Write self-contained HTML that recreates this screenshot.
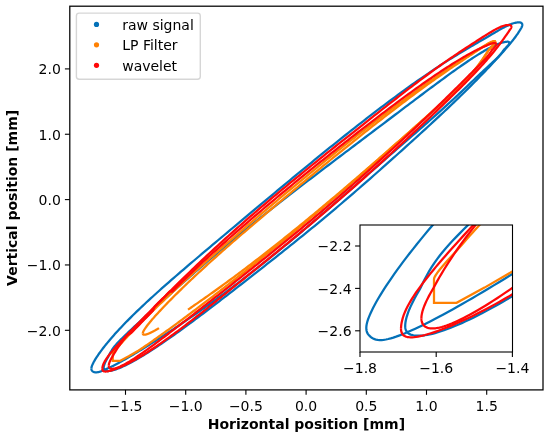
<!DOCTYPE html>
<html lang="en">
<head>
<meta charset="utf-8">
<title>Position plot</title>
<style>html,body{margin:0;padding:0;background:#fff}svg{display:block}</style>
</head>
<body>
<svg width="550" height="437" viewBox="0 0 550 437" role="img" aria-label="Vertical versus horizontal position: raw signal, LP filter and wavelet">
<defs><clipPath id="cm"><rect x="69.80" y="6.20" width="473.20" height="383.70"/></clipPath><clipPath id="ci"><rect x="360.00" y="225.00" width="152.50" height="127.00"/></clipPath></defs>
<rect width="550" height="437" fill="#fff"/>
<g clip-path="url(#cm)" fill="none" stroke-linejoin="round" stroke-linecap="butt">
<path d="M91.37 368.65L91.39 368.19L91.46 367.69L91.57 367.16L91.73 366.59L91.92 365.99L92.17 365.35L92.46 364.67L92.79 363.93L93.16 363.15L93.58 362.33L94.05 361.48L94.56 360.58L95.11 359.64L95.70 358.66L96.34 357.65L97.02 356.60L97.75 355.52L98.51 354.40L99.32 353.24L100.18 352.05L101.07 350.83L102.01 349.57L102.99 348.28L104.01 346.97L105.08 345.62L106.18 344.24L107.33 342.84L108.52 341.41L109.75 339.95L111.02 338.46L112.33 336.95L113.68 335.42L115.07 333.86L116.49 332.28L117.96 330.68L119.47 329.05L121.02 327.41L122.60 325.74L124.22 324.05L125.88 322.34L127.58 320.61L129.31 318.86L131.08 317.09L132.89 315.31L134.73 313.50L136.60 311.68L138.52 309.83L140.46 307.98L142.44 306.10L144.46 304.20L146.51 302.29L148.59 300.37L150.70 298.42L152.85 296.46L155.03 294.49L157.24 292.49L159.48 290.49L161.75 288.46L164.05 286.42L166.37 284.37L168.73 282.30L171.12 280.21L173.53 278.11L175.98 275.99L178.44 273.86L180.94 271.71L183.46 269.55L186.01 267.37L188.58 265.17L191.18 262.96L193.79 260.74L196.44 258.50L199.10 256.24L201.79 253.97L204.50 251.68L207.23 249.38L209.98 247.06L212.75 244.73L215.54 242.38L218.35 240.01L221.18 237.64L224.02 235.24L226.89 232.84L229.76 230.42L232.66 227.99L235.57 225.55L238.49 223.10L241.43 220.63L244.38 218.16L247.35 215.68L250.32 213.19L253.31 210.69L256.31 208.18L259.32 205.67L262.34 203.15L265.37 200.62L268.41 198.09L271.45 195.55L274.50 193.02L277.56 190.47L280.63 187.93L283.70 185.38L286.77 182.84L289.85 180.29L292.94 177.74L296.02 175.20L299.11 172.66L302.20 170.11L305.29 167.58L308.38 165.04L311.47 162.52L314.56 159.99L317.65 157.48L320.73 154.97L323.82 152.47L326.90 149.98L329.97 147.49L333.04 145.02L336.11 142.56L339.17 140.11L342.22 137.67L345.26 135.25L348.30 132.84L351.33 130.45L354.35 128.07L357.36 125.70L360.36 123.36L363.35 121.03L366.32 118.72L369.29 116.43L372.24 114.16L375.18 111.91L378.10 109.68L381.01 107.47L383.91 105.29L386.79 103.12L389.65 100.98L392.49 98.87L395.32 96.78L398.13 94.71L400.92 92.67L403.69 90.66L406.44 88.67L409.17 86.72L411.88 84.78L414.57 82.88L417.23 81.01L419.88 79.16L422.50 77.35L425.09 75.56L427.66 73.81L430.21 72.08L432.73 70.39L435.23 68.72L437.70 67.09L440.14 65.49L442.55 63.93L444.94 62.39L447.30 60.89L449.63 59.42L451.93 57.99L454.20 56.58L456.44 55.21L458.64 53.87L460.82 52.55L462.97 51.26L465.08 50.00L467.16 48.77L469.21 47.56L471.23 46.37L473.21 45.21L475.15 44.07L477.07 42.95L478.94 41.85L480.79 40.78L482.59 39.72L484.36 38.69L486.09 37.67L487.79 36.68L489.45 35.71L491.07 34.75L492.66 33.82L494.20 32.91L495.71 32.03L497.18 31.18L498.60 30.35L499.99 29.56L501.34 28.81L502.65 28.09L503.92 27.41L505.15 26.78L506.34 26.18L507.49 25.63L508.59 25.12L509.66 24.65L510.68 24.23L511.66 23.85L512.60 23.52L513.49 23.24L514.35 23.00L515.16 22.80L515.92 22.65L516.65 22.54L517.33 22.48L517.97 22.44L518.56 22.39L519.12 22.38L519.62 22.40L520.09 22.46L520.51 22.55L520.88 22.68L521.21 22.84L521.50 23.05L521.75 23.28L521.95 23.55L522.10 23.86L522.21 24.21L522.28 24.59L522.30 25.00" stroke="#0471B8" stroke-width="2.25"/>
<path d="M522.30 25.00L522.28 25.32L522.21 25.68L522.11 26.07L521.96 26.50L521.76 26.96L521.53 27.46L521.25 27.99L520.92 28.56L520.56 29.16L520.15 29.80L519.70 30.53L519.21 31.34L518.67 32.19L518.09 33.08L517.47 34.01L516.81 34.96L516.11 35.95L515.36 36.98L514.57 38.03L513.74 39.11L512.87 40.23L511.96 41.37L511.01 42.54L510.02 43.75L508.98 44.98L507.91 46.24L506.79 47.54L505.64 48.87L504.45 50.23L503.21 51.63L501.94 53.06L500.63 54.52L499.28 56.02L497.89 57.55L496.47 59.11L495.00 60.70L493.50 62.32L491.96 63.97L490.39 65.65L488.78 67.36L487.13 69.10L485.44 70.87L483.72 72.66L481.97 74.48L480.18 76.33L478.36 78.20L476.50 80.10L474.61 82.02L472.68 83.96L470.73 85.92L468.74 87.91L466.71 89.91L464.66 91.94L462.58 93.99L460.46 96.05L458.31 98.13L456.14 100.23L453.93 102.35L451.70 104.49L449.44 106.64L447.15 108.81L444.83 111.00L442.48 113.20L440.11 115.42L437.71 117.66L435.29 119.91L432.84 122.18L430.36 124.47L427.86 126.76L425.34 129.08L422.80 131.41L420.23 133.75L417.64 136.11L415.03 138.48L412.40 140.87L409.75 143.27L407.07 145.68L404.38 148.11L401.67 150.55L398.94 153.01L396.19 155.47L393.43 157.95L390.65 160.44L387.85 162.93L385.04 165.43L382.22 167.95L379.38 170.47L376.52 172.99L373.65 175.52L370.77 178.06L367.88 180.59L364.98 183.14L362.07 185.68L359.14 188.23L356.21 190.77L353.27 193.32L350.31 195.86L347.36 198.40L344.39 200.94L341.42 203.48L338.44 206.01L335.46 208.54L332.47 211.06L329.48 213.57L326.48 216.08L323.49 218.57L320.49 221.06L317.49 223.54L314.48 226.01L311.48 228.48L308.48 230.93L305.48 233.37L302.48 235.81L299.48 238.24L296.48 240.65L293.49 243.06L290.50 245.45L287.52 247.84L284.54 250.21L281.57 252.58L278.61 254.93L275.65 257.28L272.70 259.61L269.76 261.93L266.82 264.24L263.90 266.54L260.98 268.83L258.08 271.10L255.19 273.37L252.31 275.62L249.44 277.86L246.59 280.09L243.75 282.30L240.92 284.50L238.11 286.69L235.31 288.86L232.53 291.02L229.77 293.16L227.02 295.28L224.29 297.39L221.58 299.48L218.89 301.55L216.22 303.60L213.57 305.63L210.93 307.63L208.32 309.62L205.73 311.58L203.17 313.52L200.62 315.44L198.10 317.33L195.60 319.20L193.13 321.04L190.68 322.85L188.25 324.64L185.85 326.40L183.48 328.13L181.14 329.83L178.82 331.50L176.53 333.15L174.26 334.76L172.03 336.34L169.83 337.89L167.65 339.41L165.50 340.90L163.39 342.35L161.30 343.77L159.25 345.16L157.23 346.51L155.24 347.83L153.28 349.11L151.36 350.36L149.46 351.57L147.61 352.75L145.78 353.89L143.99 355.00L142.24 356.07L140.52 357.10L138.84 358.09L137.19 359.05L135.58 359.97L134.00 360.86L132.46 361.71L130.96 362.52L129.50 363.29L128.07 364.03L126.68 364.72L125.33 365.39L124.02 366.01L122.75 366.59L121.52 367.14L120.32 367.66L119.17 368.13L118.05 368.57L116.98 368.97L115.95 369.33L114.95 369.66L114.00 369.95L113.09 370.21L112.22 370.43L111.39 370.62L110.60 370.77L109.86 370.89L109.15 370.97L108.49 371.02L107.87 371.03L107.29 371.02L106.76 370.97L106.26 370.88L105.81 370.80L105.41 370.68L105.04 370.53L104.72 370.34L104.44 370.12L104.20 369.86L104.01 369.56L103.86 369.23L103.75 368.87L103.69 368.47L103.66 368.03" stroke="#0471B8" stroke-width="2.25"/>
<path d="M103.66 368.03L103.68 367.50L103.75 366.93L103.85 366.34L104.00 365.70L104.19 365.04L104.41 364.34L104.69 363.61L105.00 362.85L105.35 362.06L105.75 361.23L106.18 360.37L106.66 359.48L107.18 358.56L107.74 357.60L108.34 356.62L108.98 355.34L109.67 353.96L110.39 352.60L111.15 351.27L111.96 349.98L112.80 348.72L113.68 347.49L114.61 346.29L115.57 345.12L116.57 343.98L117.61 342.84L118.69 341.71L119.81 340.56L120.97 339.40L122.16 338.21L123.39 337.00L124.67 335.77L125.97 334.51L127.32 333.23L128.70 331.92L130.12 330.58L131.57 329.22L133.07 327.83L134.59 326.42L136.15 324.98L137.75 323.51L139.38 322.01L141.05 320.48L142.75 318.93L144.48 317.35L146.25 315.74L148.05 314.11L149.89 312.45L151.75 310.76L153.65 309.04L155.58 307.30L157.54 305.53L159.53 303.74L161.55 301.92L163.60 300.07L165.68 298.20L167.79 296.31L169.92 294.40L172.09 292.46L174.28 290.50L176.50 288.52L178.75 286.51L181.02 284.49L183.32 282.45L185.65 280.39L188.00 278.31L190.37 276.22L192.77 274.11L195.19 271.99L197.63 269.85L200.10 267.70L202.59 265.54L205.10 263.37L207.63 261.19L210.18 259.00L212.75 256.80L215.34 254.60L217.95 252.39L220.58 250.18L223.22 247.96L225.88 245.74L228.56 243.51L231.26 241.28L233.97 239.05L236.69 236.81L239.43 234.57L242.18 232.33L244.95 230.09L247.73 227.84L250.52 225.60L253.32 223.35L256.14 221.10L258.96 218.85L261.79 216.60L264.64 214.35L267.49 212.10L270.35 209.85L273.22 207.60L276.09 205.35L278.97 203.10L281.86 200.85L284.75 198.60L287.64 196.36L290.54 194.12L293.45 191.88L296.35 189.64L299.26 187.40L302.17 185.17L305.08 182.94L307.99 180.72L310.90 178.50L313.81 176.28L316.71 174.06L319.62 171.85L322.52 169.65L325.42 167.44L328.32 165.25L331.21 163.06L334.09 160.87L336.97 158.69L339.85 156.52L342.71 154.35L345.57 152.19L348.43 150.04L351.27 147.89L354.10 145.75L356.93 143.62L359.74 141.49L362.54 139.37L365.33 137.27L368.11 135.17L370.88 133.08L373.63 131.00L376.37 128.92L379.10 126.86L381.81 124.81L384.50 122.78L387.18 120.75L389.84 118.74L392.49 116.74L395.11 114.75L397.72 112.78L400.31 110.82L402.88 108.88L405.44 106.95L407.97 105.05L410.48 103.16L412.96 101.28L415.43 99.43L417.87 97.59L420.30 95.77L422.69 93.98L425.07 92.20L427.42 90.45L429.74 88.72L432.04 87.01L434.31 85.32L436.56 83.65L438.78 82.01L440.97 80.40L443.14 78.81L445.28 77.24L447.39 75.71L449.47 74.20L451.52 72.71L453.54 71.26L455.53 69.84L457.49 68.45L459.42 67.09L461.31 65.76L463.18 64.46L465.01 63.20L466.81 61.97L468.58 60.78L470.31 59.62L472.01 58.50L473.68 57.41L475.31 56.36L476.91 55.35L478.47 54.38L480.00 53.44L481.49 52.53L482.94 51.67L484.36 50.84L485.74 50.06L487.09 49.31L488.40 48.59L489.67 47.92L490.90 47.28L492.10 46.68L493.25 46.12L494.37 45.59L495.45 45.10L496.49 44.65L497.50 44.23L498.46 43.85L499.38 43.51L500.26 43.20L501.11 42.92L501.91 42.67L502.67 42.46L503.40 42.28L504.08 42.14L504.72 42.02L505.32 41.93L505.88 41.87L506.40 41.81L506.88 41.74L507.32 41.70L507.71 41.70L508.07 41.73L508.38 41.80L508.65 41.90L508.88 42.03L509.07 42.20L509.21 42.40L509.32 42.63L509.38 42.90L509.40 43.20" stroke="#0471B8" stroke-width="2.25"/>
<path d="M509.40 43.20L509.38 43.36L509.31 43.56L509.21 43.79L509.06 44.05L508.86 44.35L508.63 44.68L508.35 45.04L508.03 45.44L507.66 45.87L507.25 46.33L506.80 46.82L506.31 47.35L505.78 47.91L505.20 48.50L504.58 49.13L503.92 49.78L503.22 50.76L502.47 51.86L501.68 52.95L500.86 54.02L499.99 55.07L499.08 56.11L498.13 57.12L497.13 58.13L496.10 59.13L495.03 60.13L493.92 61.15L492.76 62.20L491.57 63.28L490.34 64.41L489.07 65.58L487.76 66.78L486.41 68.03L485.03 69.32L483.60 70.65L482.14 72.02L480.64 73.43L479.11 74.88L477.53 76.36L475.92 77.89L474.28 79.45L472.60 81.05L470.88 82.68L469.13 84.35L467.34 86.04L465.52 87.77L463.67 89.53L461.78 91.32L459.86 93.13L457.90 94.97L455.91 96.82L453.89 98.70L451.84 100.60L449.76 102.52L447.65 104.45L445.51 106.40L443.33 108.36L441.13 110.35L438.90 112.35L436.64 114.36L434.35 116.40L432.04 118.45L429.70 120.51L427.33 122.60L424.93 124.70L422.51 126.82L420.07 128.95L417.60 131.11L415.10 133.28L412.58 135.47L410.04 137.67L407.48 139.90L404.89 142.14L402.29 144.40L399.66 146.69L397.01 148.99L394.34 151.31L391.65 153.65L388.95 156.01L386.22 158.39L383.48 160.79L380.72 163.20L377.94 165.63L375.15 168.08L372.34 170.53L369.52 173.01L366.68 175.49L363.83 177.99L360.97 180.50L358.09 183.02L355.21 185.55L352.31 188.08L349.40 190.62L346.48 193.17L343.55 195.73L340.61 198.29L337.66 200.85L334.71 203.42L331.75 205.98L328.78 208.55L325.81 211.12L322.83 213.68L319.85 216.25L316.86 218.81L313.87 221.36L310.88 223.91L307.88 226.46L304.88 228.99L301.88 231.52L298.89 234.04L295.89 236.56L292.89 239.06L289.90 241.55L286.90 244.03L283.91 246.50L280.92 248.95L277.94 251.40L274.96 253.83L271.99 256.24L269.02 258.64L266.06 261.02L263.11 263.39L260.16 265.73L257.22 268.07L254.29 270.38L251.37 272.67L248.46 274.94L245.56 277.19L242.68 279.43L239.80 281.63L236.94 283.82L234.09 285.99L231.25 288.13L228.43 290.25L225.62 292.34L222.83 294.41L220.05 296.46L217.29 298.48L214.55 300.48L211.83 302.45L209.12 304.40L206.43 306.33L203.76 308.23L201.11 310.10L198.49 311.96L195.88 313.78L193.29 315.59L190.73 317.36L188.19 319.11L185.67 320.84L183.17 322.54L180.70 324.22L178.26 325.87L175.84 327.49L173.44 329.09L171.07 330.67L168.73 332.22L166.42 333.74L164.13 335.24L161.87 336.70L159.64 338.15L157.44 339.57L155.26 340.96L153.12 342.32L151.01 343.66L148.93 344.97L146.88 346.25L144.86 347.51L142.87 348.73L140.92 349.94L138.99 351.11L137.10 352.25L135.25 353.37L133.43 354.46L131.64 355.52L129.89 356.55L128.17 357.55L126.49 358.52L124.85 359.46L123.24 360.37L121.66 361.25L120.13 362.10L118.63 362.92L117.17 363.71L115.74 364.47L114.36 365.20L113.01 365.89L111.70 366.55L110.43 367.18L109.20 367.78L108.01 368.34L106.85 368.87L105.74 369.37L104.67 369.83L103.64 370.25L102.64 370.64L101.69 371.00L100.78 371.32L99.91 371.60L99.09 371.84L98.30 372.04L97.56 372.19L96.85 372.30L96.19 372.36L95.57 372.36L94.99 372.31L94.46 372.22L93.97 372.07L93.52 371.88L93.11 371.65L92.75 371.38L92.42 371.08L92.14 370.80L91.91 370.53L91.71 370.22L91.56 369.88L91.46 369.50L91.39 369.09L91.37 368.65" stroke="#0471B8" stroke-width="2.25"/>
<path d="M495.30 41.90L495.29 42.03L495.25 42.19L495.18 42.37L495.09 42.57L494.97 42.79L494.82 43.04L494.65 43.30L494.45 43.59L494.22 43.90L493.97 44.24L493.69 44.59L493.38 44.97L493.05 45.36L492.69 45.78L492.31 46.22L491.90 46.69L491.46 47.17L491.00 47.68L490.51 48.20L489.99 48.75L489.45 49.32L488.88 49.91L488.29 50.82L487.67 51.81L487.03 52.84L486.36 53.90L485.66 54.98L484.94 56.09L484.19 57.22L483.42 58.37L482.63 59.54L481.81 60.73L480.96 61.94L480.09 63.15L479.20 64.38L478.28 65.62L477.33 66.86L476.36 68.11L475.37 69.36L474.36 70.63L473.32 71.89L472.25 73.16L471.16 74.43L470.05 75.71L468.92 76.98L467.76 78.26L466.58 79.54L465.38 80.83L464.16 82.11L462.91 83.40L461.64 84.69L460.35 85.98L459.04 87.28L457.70 88.58L456.34 89.88L454.97 91.19L453.57 92.51L452.15 93.83L450.71 95.16L449.24 96.50L447.76 97.85L446.26 99.21L444.74 100.59L443.20 101.97L441.64 103.38L440.06 104.80L438.46 106.23L436.84 107.68L435.20 109.14L433.55 110.62L431.87 112.11L430.18 113.62L428.47 115.15L426.75 116.68L425.00 118.24L423.24 119.80L421.46 121.38L419.67 122.97L417.86 124.58L416.03 126.20L414.19 127.84L412.33 129.48L410.46 131.14L408.57 132.81L406.66 134.50L404.75 136.19L402.82 137.90L400.87 139.62L398.91 141.35L396.94 143.09L394.95 144.85L392.95 146.61L390.94 148.38L388.91 150.16L386.88 151.96L384.83 153.76L382.77 155.57L380.70 157.39L378.62 159.22L376.53 161.05L374.42 162.90L372.31 164.75L370.19 166.60L368.05 168.47L365.91 170.34L363.76 172.22L361.60 174.10L359.44 175.99L357.26 177.88L355.08 179.78L352.89 181.68L350.69 183.59L348.48 185.50L346.27 187.41L344.06 189.32L341.83 191.24L339.60 193.16L337.37 195.08L335.13 197.00L332.89 198.93L330.64 200.85L328.39 202.78L326.13 204.70L323.87 206.62L321.61 208.55L319.34 210.47L317.07 212.39L314.80 214.30L312.53 216.22L310.25 218.13L307.98 220.04L305.70 221.94L303.43 223.84L301.15 225.74L298.87 227.64L296.59 229.53L294.32 231.41L292.04 233.29L289.77 235.17L287.49 237.04L285.22 238.90L282.95 240.76L280.69 242.62L278.42 244.47L276.16 246.31L273.90 248.14L271.65 249.97L269.40 251.79L267.15 253.61L264.91 255.41L262.68 257.21L260.45 259.01L258.22 260.79L256.00 262.57L253.79 264.33L251.58 266.09L249.38 267.84L247.19 269.58L245.00 271.31L242.83 273.04L240.66 274.75L238.49 276.45L236.34 278.14L234.20 279.83L232.06 281.50L229.93 283.16L227.82 284.81L225.71 286.45L223.62 288.08L221.53 289.69L219.46 291.30L217.39 292.89L215.34 294.47L213.30 296.04L211.27 297.60L209.26 299.14L207.25 300.68L205.26 302.19L203.28 303.70L201.32 305.19L199.37 306.67L197.43 308.13L195.51 309.58L193.60 311.02L191.71 312.44L189.83 313.85L187.97 315.24L186.12 316.62L184.29 317.99L182.47 319.33L180.67 320.67L178.89 321.98L177.12 323.29L175.37 324.57L173.64 325.84L171.92 327.10L170.23 328.33L168.55 329.55L166.88 330.76L165.24 331.95L163.62 333.12L162.01 334.27L160.42 335.41L158.86 336.52L157.31 337.62L155.78 338.71L154.27 339.77L152.78 340.82L151.32 341.85L149.87 342.86L148.44 343.85L147.03 344.82L145.65 345.77L144.29 346.71L142.94 347.62L141.62 348.52L140.32 349.39L139.05 350.25L137.79 351.09L128.72 356.19L119.91 360.88L112.76 360.88L112.76 353.60L112.76 353.60L112.78 353.43L112.84 353.23L112.94 353.00L113.08 352.73L113.26 352.43L113.47 352.10L113.73 351.74L114.02 351.34L114.36 350.92L114.73 350.46L115.14 349.97L115.59 349.45L116.08 348.90L116.61 348.32L117.18 347.71L117.78 347.06L118.42 346.39L119.11 345.68L119.83 344.94L120.58 344.09L121.38 343.20L122.21 342.28L123.08 341.32L123.99 340.32L124.93 339.29L125.91 338.23L126.93 337.14L127.99 336.01L129.08 334.86L130.21 333.67L131.37 332.45L132.57 331.19L133.80 329.91L135.07 328.60L136.37 327.27L137.71 325.90L139.08 324.50L140.49 323.08L141.93 321.63L143.40 320.16L144.90 318.65L146.44 317.13L148.01 315.58L149.62 314.00L151.25 312.40L152.92 310.78L154.62 309.13L156.34 307.46L158.10 305.77L159.89 304.06L161.71 302.32L163.56 300.57L165.43 298.79L167.34 296.99L169.27 295.18L171.23 293.34L173.22 291.49L175.24 289.62L177.28 287.73L179.35 285.83L181.44 283.90L183.56 281.96L185.70 280.01L187.87 278.03L190.06 276.05L192.28 274.04L194.51 272.03L196.77 270.00L199.06 267.95L201.36 265.89L203.69 263.82L206.03 261.74L208.40 259.64L210.78 257.53L213.19 255.41L215.61 253.28L218.06 251.14L220.52 248.98L222.99 246.82L225.49 244.65L228.00 242.47L230.52 240.27L233.06 238.07L235.62 235.87L238.19 233.65L240.77 231.42L243.36 229.19L245.97 226.95L248.59 224.71L251.22 222.46L253.87 220.20L256.52 217.94L259.18 215.67L261.85 213.40L264.53 211.13L267.22 208.86L269.92 206.58L272.62 204.30L275.33 202.02L278.05 199.74L280.77 197.46L283.49 195.18L286.22 192.90L288.96 190.62L291.69 188.34L294.43 186.07L297.17 183.80L299.92 181.53L302.66 179.27L305.40 177.01L308.15 174.76L310.89 172.52L313.63 170.28L316.37 168.04L319.11 165.82L321.84 163.60L324.57 161.39L327.30 159.19L330.02 157.00L332.73 154.82L335.44 152.65L338.15 150.49L340.84 148.34L343.53 146.20L346.21 144.08L348.88 141.97L351.55 139.87L354.20 137.78L356.84 135.71L359.47 133.66L362.09 131.62L364.70 129.59L367.30 127.58L369.88 125.59L372.45 123.61L375.00 121.65L377.54 119.71L380.07 117.79L382.58 115.89L385.07 114.00L387.55 112.13L390.01 110.29L392.45 108.46L394.88 106.65L397.28 104.87L399.67 103.10L402.03 101.36L404.38 99.64L406.70 97.94L409.01 96.26L411.29 94.60L413.55 92.97L415.79 91.36L418.00 89.78L420.20 88.22L422.36 86.68L424.51 85.17L426.63 83.68L428.72 82.21L430.79 80.78L432.83 79.36L434.84 77.98L436.83 76.61L438.79 75.28L440.73 73.97L442.63 72.68L444.51 71.43L446.36 70.19L448.17 68.99L449.96 67.81L451.72 66.65L453.45 65.52L455.15 64.42L456.81 63.33L458.45 62.27L460.05 61.24L461.62 60.23L463.16 59.24L464.67 58.27L466.14 57.33L467.58 56.40L468.98 55.51L470.36 54.63L471.69 53.78L473.00 52.95L474.27 52.14L475.50 51.35L476.70 50.59L477.86 49.86L478.99 49.14L480.08 48.45L481.13 47.79L482.15 47.15L483.13 46.54L484.08 45.95L484.98 45.39L485.85 44.86L486.69 44.35L487.48 43.87L488.24 43.43L488.96 43.06L489.64 42.72L490.28 42.42L490.89 42.14L491.46 41.90L491.98 41.69L492.47 41.52L492.92 41.37L493.34 41.26L493.71 41.18L494.04 41.13L494.34 41.11L494.59 41.13L494.81 41.18L494.99 41.26L495.12 41.37L495.22 41.51L495.28 41.69L495.30 41.90" stroke="#FF8103" stroke-width="2.25" stroke-linejoin="miter"/>
<path d="M495.30 41.90L495.29 42.00L495.26 42.13L495.21 42.26L495.14 42.42L495.06 42.59L494.95 42.77L494.82 42.97L494.67 43.19L494.51 43.43L494.32 43.68L494.12 43.95L493.89 44.23L493.65 44.53L493.38 44.84L493.10 45.18L492.80 45.52L492.48 45.89L492.14 46.27L491.78 46.66L491.40 47.08L491.00 47.50L490.58 47.95L490.14 48.40L489.69 48.88L489.21 49.37L488.72 49.88L488.21 50.60L487.68 51.41L487.12 52.25L486.56 53.11L485.97 54.01L485.36 54.92L484.74 55.86L484.09 56.82L483.43 57.81L482.75 58.80L482.05 59.82L481.33 60.85L480.60 61.89L479.85 62.94L479.08 63.99L478.29 65.06L477.48 66.12L476.65 67.20L475.81 68.28L474.95 69.36L474.07 70.45L473.18 71.54L472.27 72.63L471.34 73.73L470.39 74.83L469.43 75.92L468.45 77.03L467.45 78.13L466.44 79.23L465.40 80.34L464.36 81.44L463.29 82.55L462.21 83.66L461.12 84.78L460.00 85.89L458.88 87.01L457.73 88.13L456.57 89.25L455.39 90.38L454.20 91.51L453.00 92.65L451.77 93.79L450.54 94.94L449.28 96.09L448.02 97.26L446.74 98.43L445.44 99.61L444.13 100.79L442.80 101.99L441.46 103.21L440.11 104.43L438.74 105.66L437.36 106.90L435.96 108.16L434.56 109.42L433.13 110.70L431.70 111.99L430.25 113.28L428.79 114.59L427.31 115.91L425.83 117.24L424.33 118.57L422.81 119.92L421.29 121.28L419.75 122.64L418.21 124.02L416.65 125.40L415.07 126.80L413.49 128.20L411.90 129.61L410.29 131.04L408.68 132.47L407.05 133.90L405.41 135.35L403.76 136.81L402.10 138.27L400.44 139.74L398.76 141.22L397.07 142.70L395.37 144.19L393.66 145.69L391.95 147.20L390.22 148.71L388.49 150.23L386.74 151.76L384.99 153.29L383.23 154.83L381.46 156.38L379.69 157.93L377.90 159.48L376.11 161.04L374.31 162.61L372.50 164.18L370.69 165.75L368.87 167.33L367.04 168.91L365.21 170.50L363.37 172.09L361.52 173.68L359.67 175.28L357.81 176.88L355.95 178.48L354.08 180.09L352.20 181.70L350.32 183.31L348.44 184.92L346.55 186.53L344.66 188.15L342.76 189.77L340.86 191.38L338.95 193.00L337.04 194.62L335.13 196.24L333.21 197.86L331.29 199.48L329.37 201.10L327.45 202.71L325.52 204.33L323.59 205.95L321.66 207.56L319.72 209.17L317.79 210.79L315.85 212.39L313.91 214.00L311.97 215.61L310.03 217.21L308.09 218.81L306.15 220.40L304.20 222.00L302.26 223.59L300.32 225.17L298.38 226.76L296.44 228.33L294.49 229.91L292.55 231.48L290.61 233.04L288.68 234.60L286.74 236.16L284.80 237.71L282.87 239.26L280.94 240.79L279.01 242.33L277.08 243.86L275.16 245.38L273.24 246.90L271.32 248.41L269.40 249.91L267.49 251.41L265.58 252.90L263.68 254.38L261.78 255.85L259.88 257.32L257.99 258.78L256.10 260.24L254.22 261.68L252.34 263.12L250.47 264.55L248.60 265.97L246.74 267.39L244.88 268.79L243.03 270.19L241.19 271.57L239.35 272.95L237.52 274.32L235.69 275.68L233.87 277.03L232.06 278.37L230.26 279.71L228.46 281.03L226.67 282.34L224.89 283.64L223.12 284.94L221.35 286.22L219.59 287.49L217.84 288.75L216.10 290.01L214.37 291.25L212.65 292.48L210.94 293.70L209.23 294.91L207.54 296.11L205.85 297.29L204.18 298.47L202.51 299.64L200.86 300.79L199.21 301.94L197.58 303.07L195.95 304.19L194.34 305.30L192.74 306.40L191.15 307.49L189.57 308.56L188.00 309.63" stroke="#FF8103" stroke-width="2.25" stroke-linejoin="miter"/>
<path d="M495.30 41.90L495.28 41.71L495.23 41.55L495.14 41.42L495.01 41.32L494.85 41.25L494.65 41.21L494.41 41.20L494.14 41.22L493.83 41.27L493.49 41.35L493.11 41.46L492.70 41.60L492.24 41.77L491.76 41.97L491.24 42.20L490.68 42.46L490.08 42.75L489.46 43.07L488.79 43.42L488.10 43.81L487.36 44.26L486.60 44.74L485.79 45.24L484.96 45.78L484.09 46.33L483.18 46.91L482.24 47.52L481.27 48.15L480.27 48.80L479.23 49.48L478.16 50.17L477.05 50.89L475.92 51.64L474.75 52.40L473.55 53.18L472.32 53.99L471.05 54.82L469.76 55.67L468.43 56.54L467.07 57.43L465.68 58.34L464.27 59.28L462.82 60.23L461.34 61.21L459.83 62.21L458.30 63.23L456.74 64.27L455.14 65.34L453.52 66.43L451.87 67.54L450.20 68.68L448.50 69.84L446.77 71.02L445.01 72.23L443.23 73.47L441.42 74.73L439.59 76.01L437.73 77.31L435.85 78.64L433.95 80.00L432.02 81.37L430.07 82.77L428.09 84.20L426.09 85.64L424.07 87.11L422.03 88.60L419.97 90.11L417.89 91.64L415.78 93.19L413.66 94.77L411.52 96.36L409.36 97.97L407.17 99.61L404.98 101.26L402.76 102.93L400.53 104.62L398.28 106.33L396.01 108.06L393.73 109.81L391.43 111.57L389.12 113.35L386.79 115.14L384.45 116.95L382.09 118.78L379.73 120.62L377.35 122.48L374.95 124.35L372.55 126.24L370.14 128.14L367.71 130.05L365.28 131.97L362.83 133.91L360.38 135.86L357.92 137.82L355.45 139.79L352.97 141.77L350.49 143.76L347.99 145.76L345.50 147.77L342.99 149.79L340.49 151.82L337.98 153.85L335.46 155.89L332.94 157.94L330.42 160.00L327.90 162.06L325.37 164.12L322.84 166.19L320.31 168.26L317.79 170.34L315.26 172.42L312.73 174.51L310.20 176.59L307.68 178.68L305.16 180.77L302.64 182.86L300.12 184.95L297.61 187.04L295.11 189.13L292.60 191.22L290.11 193.30L287.61 195.39L285.13 197.47L282.65 199.55L280.18 201.63L277.72 203.70L275.27 205.76L272.82 207.83L270.39 209.88L267.96 211.93L265.55 213.98L263.15 216.02L260.75 218.05L258.37 220.07L256.01 222.08L253.65 224.09L251.31 226.09L248.98 228.08L246.67 230.06L244.37 232.04L242.09 234.00L239.82 235.96L237.57 237.90L235.34 239.84L233.12 241.77L230.92 243.68L228.74 245.59L226.58 247.49L224.44 249.37L222.32 251.24L220.21 253.11L218.13 254.96L216.07 256.80L214.03 258.63L212.01 260.44L210.01 262.24L208.03 264.03L206.08 265.81L204.15 267.57L202.25 269.32L200.37 271.06L198.51 272.78L196.68 274.48L194.87 276.17L193.09 277.85L191.33 279.51L189.60 281.15L187.90 282.77L186.23 284.37L184.58 285.96L182.96 287.53L181.36 289.08L179.80 290.61L178.27 292.11L176.76 293.60L175.28 295.07L173.83 296.51L172.42 297.94L171.03 299.34L169.67 300.71L168.34 302.07L167.05 303.40L165.78 304.70L164.55 305.99L163.35 307.24L162.18 308.48L161.05 309.68L159.94 310.86L158.87 312.02L157.83 313.15L156.83 314.25L155.86 315.32L154.92 316.37L154.01 317.39L153.14 318.38L152.31 319.35L151.50 320.28L150.74 321.19L150.00 322.07L149.31 322.92L148.64 323.74L148.02 324.53L147.42 325.29L146.86 326.03L146.34 326.73L145.86 327.40L145.40 328.04L144.99 328.65L144.61 329.23L144.27 329.78L143.96 330.30L143.69 330.79L143.45 331.25L143.25 331.68L143.09 332.09L142.96 332.46L142.87 332.80L142.82 333.12L142.80 333.40" stroke="#FF8103" stroke-width="2.25" stroke-linejoin="miter"/>
<path d="M142.80 333.40L142.80 333.44L142.80 333.48L142.80 333.51L142.81 333.55L142.81 333.59L142.81 333.62L142.82 333.66L142.82 333.69L142.83 333.73L142.83 333.76L142.84 333.79L142.85 333.83L142.86 333.86L142.87 333.89L142.88 333.92L142.89 333.95L142.90 333.98L142.91 334.01L142.92 334.04L142.94 334.07L142.95 334.09L142.97 334.12L142.98 334.15L143.00 334.17L143.01 334.20L143.03 334.22L143.05 334.25L143.07 334.27L143.09 334.29L143.11 334.32L143.13 334.34L143.15 334.36L143.17 334.38L143.20 334.40L143.22 334.42L143.24 334.44L143.27 334.45L143.30 334.47L143.32 334.49L143.35 334.51L143.38 334.52L143.40 334.54L143.43 334.55L143.46 334.57L143.49 334.58L143.53 334.59L143.56 334.61L143.59 334.62L143.62 334.63L143.66 334.64L143.69 334.65L143.73 334.66L143.76 334.67L143.80 334.68L143.84 334.69L143.87 334.69L143.91 334.70L143.95 334.71L143.99 334.71L144.03 334.72L144.08 334.72L144.12 334.72L144.16 334.73L144.20 334.73L144.25 334.73L144.29 334.73L144.34 334.74L144.38 334.74L144.43 334.74L144.48 334.74L144.53 334.73L144.58 334.73L144.63 334.73L144.68 334.73L144.73 334.72L144.78 334.72L144.83 334.72L144.88 334.71L144.94 334.70L144.99 334.70L145.05 334.69L145.10 334.68L145.16 334.68L145.22 334.67L145.27 334.66L145.33 334.65L145.39 334.64L145.45 334.63L145.51 334.61L145.57 334.60L145.63 334.59L145.70 334.58L145.76 334.56L145.82 334.55L145.89 334.53L145.95 334.52L146.02 334.50L146.08 334.48L146.15 334.47L146.22 334.45L146.29 334.43L146.36 334.41L146.43 334.39L146.50 334.37L146.57 334.35L146.64 334.32L146.71 334.30L146.79 334.28L146.86 334.25L146.93 334.23L147.01 334.21L147.09 334.18L147.16 334.15L147.24 334.13L147.32 334.10L147.40 334.07L147.48 334.04L147.56 334.01L147.64 333.98L147.72 333.95L147.80 333.92L147.88 333.89L147.97 333.86L148.05 333.83L148.13 333.79L148.22 333.76L148.30 333.73L148.39 333.69L148.48 333.66L148.57 333.62L148.65 333.58L148.74 333.55L148.83 333.51L148.92 333.47L149.02 333.43L149.11 333.39L149.20 333.35L149.29 333.31L149.39 333.27L149.48 333.23L149.58 333.18L149.67 333.14L149.77 333.10L149.87 333.05L149.96 333.01L150.06 332.96L150.16 332.92L150.26 332.87L150.36 332.82L150.46 332.78L150.56 332.73L150.67 332.68L150.77 332.63L150.87 332.58L150.98 332.53L151.08 332.48L151.19 332.43L151.30 332.37L151.40 332.32L151.51 332.27L151.62 332.21L151.73 332.16L151.84 332.10L151.95 332.05L152.06 331.99L152.17 331.94L152.28 331.88L152.39 331.82L152.51 331.76L152.62 331.70L152.74 331.64L152.85 331.58L152.97 331.52L153.09 331.46L153.20 331.40L153.32 331.33L153.44 331.27L153.56 331.21L153.68 331.14L153.80 331.08L153.92 331.01L154.04 330.95L154.17 330.88L154.29 330.81L154.41 330.74L154.54 330.68L154.66 330.61L154.79 330.54L154.91 330.47L155.04 330.40L155.17 330.33L155.30 330.25L155.43 330.18L155.56 330.11L155.69 330.04L155.82 329.96L155.95 329.89L156.08 329.81L156.21 329.74L156.35 329.66L156.48 329.58L156.61 329.51L156.75 329.43L156.89 329.35L157.02 329.27L157.16 329.19L157.30 329.11L157.44 329.03L157.57 328.95L157.71 328.87L157.85 328.78L158.00 328.70L158.14 328.62L158.28 328.53L158.42 328.45L158.57 328.36L158.71 328.28L158.85 328.19L159.00 328.10" stroke="#FF8103" stroke-width="2.25" stroke-linejoin="miter"/>
<path d="M102.34 368.88L102.36 368.31L102.42 367.70L102.53 367.06L102.67 366.39L102.86 365.68L103.09 364.94L103.37 364.22L103.68 363.49L104.04 362.74L104.44 361.96L104.88 361.17L105.36 360.36L105.88 359.52L106.45 358.66L107.05 357.78L107.70 356.87L108.39 355.94L109.12 354.99L109.89 354.01L110.70 353.00L111.55 351.96L112.44 350.90L113.37 349.81L114.34 348.69L115.35 347.55L116.40 346.37L117.49 345.16L118.61 343.92L119.78 342.65L120.99 341.35L122.23 340.02L123.51 338.65L124.83 337.25L126.19 335.82L127.58 334.36L129.01 332.86L130.48 331.34L131.98 329.78L133.52 328.18L135.09 326.56L136.70 324.90L138.35 323.21L140.03 321.49L141.74 319.74L143.49 317.96L145.27 316.15L147.09 314.30L148.94 312.43L150.82 310.53L152.73 308.59L154.68 306.63L156.65 304.65L158.66 302.63L160.69 300.59L162.76 298.52L164.86 296.43L166.98 294.31L169.14 292.17L171.32 290.01L173.53 287.82L175.77 285.61L178.04 283.38L180.33 281.13L182.65 278.87L184.99 276.58L187.36 274.28L189.75 271.97L192.17 269.63L194.61 267.29L197.08 264.93L199.56 262.56L202.07 260.18L204.60 257.79L207.15 255.39L209.73 252.98L212.32 250.57L214.93 248.15L217.56 245.73L220.21 243.30L222.87 240.87L225.56 238.44L228.26 236.00L230.98 233.57L233.71 231.13L236.45 228.69L239.22 226.24L241.99 223.80L244.78 221.36L247.58 218.92L250.40 216.47L253.22 214.03L256.06 211.59L258.91 209.15L261.76 206.71L264.63 204.28L267.51 201.84L270.39 199.41L273.28 196.98L276.18 194.55L279.08 192.13L281.99 189.71L284.91 187.29L287.82 184.88L290.75 182.47L293.67 180.07L296.60 177.67L299.53 175.28L302.47 172.89L305.40 170.50L308.34 168.12L311.27 165.75L314.20 163.38L317.13 161.02L320.06 158.67L322.99 156.32L325.91 153.98L328.83 151.65L331.75 149.32L334.66 147.00L337.56 144.69L340.46 142.39L343.35 140.10L346.23 137.81L349.11 135.53L351.97 133.27L354.83 131.01L357.68 128.76L360.51 126.52L363.34 124.29L366.15 122.07L368.95 119.86L371.74 117.66L374.52 115.48L377.28 113.30L380.03 111.14L382.76 108.99L385.48 106.86L388.18 104.74L390.86 102.64L393.53 100.56L396.18 98.49L398.81 96.45L401.42 94.42L404.01 92.42L406.58 90.44L409.13 88.48L411.66 86.55L414.17 84.64L416.66 82.75L419.12 80.90L421.57 79.07L423.98 77.26L426.38 75.49L428.74 73.74L431.09 72.02L433.41 70.34L435.70 68.68L437.96 67.06L440.20 65.46L442.41 63.90L444.60 62.38L446.75 60.88L448.88 59.42L450.97 57.99L453.04 56.58L455.08 55.21L457.09 53.87L459.06 52.55L461.01 51.26L462.92 50.00L464.80 48.76L466.65 47.55L468.46 46.36L470.24 45.20L471.99 44.07L473.71 42.96L475.39 41.87L477.03 40.81L478.64 39.77L480.22 38.76L481.76 37.77L483.26 36.81L484.73 35.88L486.16 34.97L487.55 34.10L488.91 33.25L490.23 32.45L491.51 31.68L492.75 30.95L493.96 30.26L495.12 29.61L496.25 29.00L497.34 28.43L498.39 27.91L499.40 27.43L500.37 27.00L501.30 26.61L502.19 26.27L503.04 25.96L503.85 25.71L504.62 25.49L505.35 25.32L506.04 25.18L506.68 25.09L507.29 25.04L507.85 25.02L508.38 25.01L508.86 24.98L509.30 24.98L509.70 25.02L510.05 25.10L510.37 25.22L510.64 25.36L510.87 25.55L511.06 25.77L511.21 26.02L511.32 26.31L511.38 26.64L511.40 27.00" stroke="#FF0808" stroke-width="2.25"/>
<path d="M511.40 27.00L511.38 27.20L511.32 27.43L511.21 27.70L511.06 28.00L510.87 28.34L510.64 28.71L510.37 29.12L510.05 29.57L509.70 30.04L509.30 30.66L508.86 31.33L508.38 32.05L507.85 32.83L507.29 33.65L506.68 34.53L506.04 35.46L505.35 36.44L504.62 37.46L503.85 38.54L503.04 39.65L502.19 40.81L501.30 42.01L500.37 43.26L499.40 44.54L498.39 45.85L497.34 47.21L496.25 48.59L495.12 50.00L493.96 51.45L492.75 52.92L491.51 54.42L490.23 55.94L488.91 57.49L487.55 59.06L486.16 60.66L484.73 62.27L483.26 63.91L481.76 65.58L480.22 67.26L478.64 68.97L477.03 70.69L475.39 72.44L473.71 74.20L471.99 75.99L470.24 77.80L468.46 79.63L466.65 81.48L464.80 83.35L462.92 85.24L461.01 87.15L459.06 89.09L457.09 91.05L455.08 93.03L453.04 95.03L450.97 97.06L448.88 99.11L446.75 101.18L444.60 103.27L442.41 105.38L440.20 107.51L437.96 109.66L435.70 111.83L433.41 114.02L431.09 116.23L428.74 118.46L426.38 120.70L423.98 122.96L421.57 125.24L419.12 127.54L416.66 129.85L414.17 132.17L411.66 134.51L409.13 136.87L406.58 139.23L404.01 141.62L401.42 144.01L398.81 146.42L396.18 148.84L393.53 151.27L390.86 153.71L388.18 156.16L385.48 158.62L382.76 161.08L380.03 163.56L377.28 166.04L374.52 168.53L371.74 171.03L368.95 173.53L366.15 176.04L363.34 178.54L360.51 181.06L357.68 183.57L354.83 186.09L351.97 188.61L349.11 191.12L346.23 193.64L343.35 196.16L340.46 198.67L337.56 201.19L334.66 203.70L331.75 206.20L328.83 208.70L325.91 211.20L322.99 213.69L320.06 216.18L317.13 218.65L314.20 221.12L311.27 223.59L308.34 226.04L305.40 228.49L302.47 230.93L299.53 233.37L296.60 235.79L293.67 238.21L290.75 240.62L287.82 243.02L284.91 245.42L281.99 247.80L279.08 250.18L276.18 252.55L273.28 254.91L270.39 257.26L267.51 259.60L264.63 261.94L261.76 264.26L258.91 266.57L256.06 268.88L253.22 271.17L250.40 273.46L247.58 275.74L244.78 278.00L241.99 280.26L239.22 282.50L236.45 284.73L233.71 286.96L230.98 289.16L228.26 291.36L225.56 293.54L222.87 295.70L220.21 297.84L217.56 299.97L214.93 302.08L212.32 304.16L209.73 306.23L207.15 308.28L204.60 310.30L202.07 312.30L199.56 314.27L197.08 316.22L194.61 318.14L192.17 320.04L189.75 321.90L187.36 323.74L184.99 325.55L182.65 327.33L180.33 329.08L178.04 330.80L175.77 332.49L173.53 334.14L171.32 335.76L169.14 337.35L166.98 338.90L164.86 340.42L162.76 341.90L160.69 343.35L158.66 344.76L156.65 346.13L154.68 347.47L152.73 348.77L150.82 350.03L148.94 351.25L147.09 352.44L145.27 353.58L143.49 354.69L141.74 355.76L140.03 356.79L138.35 357.78L136.70 358.74L135.09 359.65L133.52 360.53L131.98 361.37L130.48 362.16L129.01 362.93L127.58 363.65L126.19 364.34L124.83 364.99L123.51 365.61L122.23 366.20L120.99 366.75L119.78 367.27L118.61 367.76L117.49 368.22L116.40 368.64L115.35 369.04L114.34 369.41L113.37 369.75L112.44 370.06L111.55 370.34L110.70 370.59L109.89 370.81L109.12 371.00L108.39 371.16L107.70 371.29L107.05 371.40L106.45 371.47L105.88 371.51L105.36 371.52L104.88 371.50L104.44 371.44L104.04 371.35L103.68 371.23L103.37 371.07L103.09 370.87L102.86 370.63L102.67 370.35L102.53 370.04L102.42 369.69L102.36 369.30L102.34 368.88" stroke="#FF0808" stroke-width="2.25"/>
<path d="M108.78 365.63L108.80 365.16L108.86 364.67L108.96 364.14L109.10 363.58L109.28 362.98L109.50 362.36L109.76 361.70L110.06 361.01L110.40 360.28L110.77 359.53L111.19 358.74L111.65 357.92L112.14 357.08L112.68 356.18L113.25 355.13L113.87 354.05L114.52 352.94L115.21 351.80L115.94 350.62L116.71 349.42L117.51 348.19L118.35 346.94L119.24 345.67L120.16 344.37L121.11 343.05L122.11 341.72L123.14 340.37L124.21 339.00L125.31 337.61L126.45 336.24L127.63 335.14L128.85 334.32L130.10 333.60L131.38 332.73L132.70 331.43L134.06 330.03L135.45 328.59L136.87 327.13L138.33 325.63L139.82 324.10L141.35 322.54L142.91 320.95L144.50 319.33L146.12 317.68L147.78 316.00L149.47 314.29L151.19 312.55L152.94 310.78L154.72 306.59L156.54 304.76L158.38 302.91L160.25 301.03L162.15 299.13L164.08 297.20L166.04 295.25L168.03 293.27L170.04 291.27L172.08 291.65L174.15 289.61L176.25 287.54L178.37 285.46L180.52 283.35L182.69 281.23L184.88 279.09L187.11 276.93L189.35 274.76L191.62 272.57L193.91 270.36L196.22 268.14L198.56 265.93L200.91 263.72L203.29 261.52L205.69 259.34L208.10 257.15L210.54 254.97L213.00 252.77L215.47 250.55L217.96 248.31L220.47 246.06L223.00 243.81L225.54 241.55L228.10 239.28L230.68 237.01L233.27 234.74L235.87 232.46L238.49 230.18L241.12 227.89L243.76 225.60L246.42 223.30L249.08 221.01L251.76 218.71L254.45 216.41L257.15 214.10L259.85 211.80L262.57 209.50L265.29 207.20L268.02 204.89L270.76 202.59L273.51 200.29L276.26 197.99L279.02 195.69L281.78 193.40L284.55 191.11L287.32 188.82L290.09 186.53L292.86 184.25L295.64 181.97L298.42 179.70L301.20 177.43L303.98 175.17L306.76 172.91L309.54 170.66L312.32 168.42L315.09 166.18L317.87 163.95L320.64 161.73L323.40 159.52L326.16 157.32L328.92 155.12L331.67 152.94L334.42 150.76L337.16 148.59L339.89 146.44L342.61 144.29L345.33 142.16L348.04 140.04L350.74 137.93L353.42 135.83L356.10 133.74L358.77 131.67L361.42 129.61L364.07 127.57L366.70 125.54L369.31 123.52L371.92 121.52L374.51 119.54L377.08 117.57L379.64 115.62L382.18 113.69L384.71 111.78L387.22 109.88L389.71 108.00L392.19 106.15L394.64 104.31L397.08 102.50L399.50 100.70L401.89 98.93L404.27 97.18L406.63 95.45L408.96 93.75L411.27 92.07L413.57 90.41L415.83 88.78L418.08 87.18L420.30 85.60L422.50 84.04L424.67 82.51L426.81 81.01L428.94 79.54L431.03 78.09L433.10 76.67L435.14 75.28L437.16 73.92L439.14 72.59L441.10 71.28L443.03 70.00L444.93 68.76L446.81 67.54L448.65 66.35L450.46 65.19L452.24 64.07L453.99 62.97L455.71 61.90L457.40 60.87L459.06 59.86L460.68 58.89L462.27 57.95L463.83 57.03L465.36 56.15L466.85 55.30L468.31 54.48L469.74 53.70L471.13 52.94L472.48 52.21L473.80 51.52L475.09 50.85L476.34 50.22L477.55 49.62L478.73 49.04L479.87 48.50L480.98 47.99L482.04 47.51L483.08 47.05L484.07 46.63L485.03 46.24L485.95 45.87L486.83 45.46L487.67 45.08L488.48 44.73L489.25 44.41L489.97 44.13L490.67 43.88L491.32 43.66L491.93 43.47L492.50 43.32L493.04 43.20L493.54 43.12L493.99 43.07L494.41 43.05L494.79 43.06L495.13 43.11L495.42 43.20L495.68 43.31L495.90 43.46L496.08 43.64L496.22 43.86L496.32 44.10L496.38 44.39L496.40 44.70" stroke="#FF0808" stroke-width="2.25"/>
<path d="M496.40 44.70L496.38 44.83L496.32 44.99L496.22 45.19L496.08 45.41L495.90 45.67L495.68 45.97L495.42 46.29L495.13 46.65L494.79 47.04L494.41 47.47L493.99 47.92L493.54 48.41L493.04 48.93L492.50 49.49L491.93 50.12L491.32 51.14L490.67 52.16L489.97 53.19L489.25 54.22L488.48 55.25L487.67 56.27L486.83 57.29L485.95 58.30L485.03 59.31L484.07 60.33L483.08 61.35L482.04 62.40L480.98 63.47L479.87 64.57L478.73 65.71L477.55 66.88L476.34 68.09L475.09 69.34L473.80 70.62L472.48 71.93L471.13 73.28L469.74 74.67L468.31 76.08L466.85 77.54L465.36 79.02L463.83 80.54L462.27 82.10L460.68 83.68L459.06 85.29L457.40 86.94L455.71 88.62L453.99 90.32L452.24 92.05L450.46 93.82L448.65 95.60L446.81 97.42L444.93 99.25L443.03 101.12L441.10 103.00L439.14 104.91L437.16 106.84L435.14 108.79L433.10 110.76L431.03 112.75L428.94 114.76L426.81 116.79L424.67 118.84L422.50 120.91L420.30 123.00L418.08 125.10L415.83 127.22L413.57 129.36L411.27 131.51L408.96 133.68L406.63 135.86L404.27 138.05L401.89 140.26L399.50 142.48L397.08 144.71L394.64 146.96L392.19 149.22L389.71 151.48L387.22 153.76L384.71 156.04L382.18 158.34L379.64 160.64L377.08 162.95L374.51 165.27L371.92 167.59L369.31 169.92L366.70 172.26L364.07 174.60L361.42 176.95L358.77 179.30L356.10 181.65L353.42 184.00L350.74 186.36L348.04 188.72L345.33 191.08L342.61 193.44L339.89 195.80L337.16 198.15L334.42 200.51L331.67 202.87L328.92 205.22L326.16 207.57L323.40 209.92L320.64 212.27L317.87 214.61L315.09 216.94L312.32 219.27L309.54 221.59L306.76 223.91L303.98 226.23L301.20 228.53L298.42 230.83L295.64 233.12L292.86 235.41L290.09 237.68L287.32 239.95L284.55 242.21L281.78 244.46L279.02 246.71L276.26 248.94L273.51 251.17L270.76 253.38L268.02 255.59L265.29 257.78L262.57 259.97L259.85 262.14L257.15 264.31L254.45 266.46L251.76 268.60L249.08 270.73L246.42 272.85L243.76 274.96L241.12 277.05L238.49 279.13L235.87 281.20L233.27 283.25L230.68 285.29L228.10 287.31L225.54 289.33L223.00 291.32L220.47 293.30L217.96 295.27L215.47 297.22L213.00 299.16L210.54 301.08L208.10 302.98L205.69 304.87L203.29 306.73L200.91 308.59L198.56 310.42L196.22 312.23L193.91 314.03L191.62 315.81L189.35 317.57L187.11 319.30L184.88 321.02L182.69 322.72L180.52 324.40L178.37 326.05L176.25 327.68L174.15 329.29L172.08 330.88L170.04 332.45L168.03 333.99L166.04 335.50L164.08 336.99L162.15 338.46L160.25 339.89L158.38 341.30L156.54 342.68L154.72 344.03L152.94 345.35L151.19 346.64L149.47 347.89L147.78 349.12L146.12 350.31L144.50 351.47L142.91 352.59L141.35 353.68L139.82 354.73L138.33 355.75L136.87 356.73L135.45 357.68L134.06 358.59L132.70 359.46L131.38 360.30L130.10 361.09L128.85 361.85L127.63 362.57L126.45 363.25L125.31 363.89L124.21 364.50L123.14 365.06L122.11 365.58L121.11 366.07L120.16 366.51L119.24 366.91L118.35 367.28L117.51 367.61L116.71 367.89L115.94 368.14L115.21 368.34L114.52 368.51L113.87 368.64L113.25 368.73L112.68 368.78L112.14 368.79L111.65 368.76L111.19 368.70L110.77 368.59L110.40 368.44L110.06 368.26L109.76 368.05L109.50 367.80L109.28 367.53L109.10 367.21L108.96 366.87L108.86 366.49L108.80 366.07L108.78 365.63" stroke="#FF0808" stroke-width="2.25"/>
</g>
<g stroke="#000" stroke-width="1.1" fill="none">
<path d="M125.50 389.90V394.80"/>
<path d="M185.70 389.90V394.80"/>
<path d="M245.90 389.90V394.80"/>
<path d="M306.10 389.90V394.80"/>
<path d="M366.30 389.90V394.80"/>
<path d="M426.50 389.90V394.80"/>
<path d="M486.70 389.90V394.80"/>
<path d="M69.80 330.30H64.90"/>
<path d="M69.80 264.95H64.90"/>
<path d="M69.80 199.60H64.90"/>
<path d="M69.80 134.25H64.90"/>
<path d="M69.80 68.90H64.90"/>
</g>
<rect x="69.80" y="6.20" width="473.20" height="383.70" fill="none" stroke="#000" stroke-width="1.25"/>
<g font-family="'DejaVu Sans', 'Liberation Sans', sans-serif" font-size="14.00" fill="#000">
<text x="125.50" y="410.55" text-anchor="middle">−1.5</text>
<text x="185.70" y="410.55" text-anchor="middle">−1.0</text>
<text x="245.90" y="410.55" text-anchor="middle">−0.5</text>
<text x="306.10" y="410.55" text-anchor="middle">0.0</text>
<text x="366.30" y="410.55" text-anchor="middle">0.5</text>
<text x="426.50" y="410.55" text-anchor="middle">1.0</text>
<text x="486.70" y="410.55" text-anchor="middle">1.5</text>
<text x="60.80" y="335.70" text-anchor="end">−2.0</text>
<text x="60.80" y="270.35" text-anchor="end">−1.0</text>
<text x="60.80" y="205.00" text-anchor="end">0.0</text>
<text x="60.80" y="139.65" text-anchor="end">1.0</text>
<text x="60.80" y="74.30" text-anchor="end">2.0</text>
<text x="306.40" y="429.00" text-anchor="middle" font-weight="bold">Horizontal position [mm]</text>
<text transform="translate(16.70 197.90) rotate(-90)" text-anchor="middle" font-weight="bold">Vertical position [mm]</text>
</g>
<rect x="360.00" y="225.00" width="152.50" height="127.00" fill="#fff"/>
<g clip-path="url(#ci)" fill="none" stroke-linejoin="round" stroke-linecap="butt">
<path d="M366.30 328.00L366.37 326.50L366.58 324.89L366.93 323.17L367.42 321.33L368.05 319.38L368.82 317.31L369.73 315.10L370.78 312.70L371.97 310.18L373.30 307.52L374.77 304.73L376.38 301.82L378.12 298.78L380.00 295.62L382.02 292.33L384.18 288.93L386.47 285.40L388.90 281.77L391.47 278.02L394.17 274.16L397.00 270.19L399.97 266.12L403.08 261.94L406.31 257.67L409.68 253.29L413.18 248.83L416.81 244.27L420.57 239.63L424.45 234.90L428.47 230.08L432.61 225.19L436.89 220.21L441.28 215.16L445.80 210.03L450.45 204.83L455.22 199.56L460.11 194.21L465.12 188.80L470.25 183.32L475.50 177.78L480.87 172.17L486.35 166.49L491.95 160.75L497.67 154.96L503.50 149.10L509.44 143.18L515.49 137.21L521.65 131.18L527.92 125.09L534.30 118.95L540.78 112.75L547.36 106.49L554.05 100.19L560.84 93.83L567.73 87.42L574.72 80.96L581.81 74.44L589.00 67.87L596.27 61.26L603.64 54.59L611.11 47.87L618.66 41.10L626.30 34.29L634.03 27.42L641.84 20.50L649.74 13.53L657.72 6.51L665.77 -0.56L673.91 -7.67L682.13 -14.84L690.42 -22.06L698.78 -29.33L707.21 -36.65L715.72 -44.02L724.29 -51.44L732.93 -58.91L741.64 -66.43L750.41 -74.00L759.24 -81.63L768.13 -89.30L777.07 -97.01L786.07 -104.77L795.13 -112.57L804.24 -120.42L813.40 -128.30L822.60 -136.22L831.86 -144.18L841.16 -152.17L850.50 -160.19L859.88 -168.25L869.30 -176.33L878.75 -184.44L888.24 -192.57L897.77 -200.72L907.32 -208.90L916.91 -217.09L926.52 -225.30L936.16 -233.53L945.82 -241.76L955.50 -250.01L965.20 -258.26L974.91 -266.52L984.64 -274.78L994.39 -283.04L1004.14 -291.30L1013.91 -299.56L1023.68 -307.81L1033.46 -316.05L1043.24 -324.28L1053.02 -332.50L1062.80 -340.71L1072.57 -348.89L1082.35 -357.05L1092.11 -365.19L1101.87 -373.30L1111.61 -381.39L1121.34 -389.44L1131.06 -397.46L1140.76 -405.44L1150.44 -413.39L1160.10 -421.29L1169.73 -429.16L1179.35 -436.97L1188.93 -444.74L1198.49 -452.46L1208.01 -460.12L1217.50 -467.73L1226.96 -475.28L1236.38 -482.78L1245.76 -490.21L1255.10 -497.57L1264.40 -504.88L1273.65 -512.11L1282.86 -519.27L1292.02 -526.36L1301.12 -533.38L1310.18 -540.32L1319.18 -547.18L1328.13 -553.96L1337.02 -560.66L1345.85 -567.28L1354.62 -573.81L1363.32 -580.25L1371.96 -586.61L1380.54 -592.87L1389.04 -599.04L1397.48 -605.12L1405.84 -611.11L1414.13 -617.00L1422.34 -622.79L1430.48 -628.49L1438.54 -634.08L1446.52 -639.58L1454.41 -644.97L1462.23 -650.26L1469.95 -655.45L1477.59 -660.53L1485.15 -665.51L1492.61 -670.38L1499.98 -675.14L1507.26 -679.80L1514.44 -684.36L1521.53 -688.81L1528.52 -693.17L1535.41 -697.44L1542.20 -701.61L1548.89 -705.70L1555.48 -709.71L1561.96 -713.64L1568.34 -717.49L1574.60 -721.26L1580.77 -724.96L1586.82 -728.59L1592.76 -732.15L1598.58 -735.64L1604.30 -739.06L1609.90 -742.42L1615.39 -745.71L1620.75 -748.93L1626.00 -752.09L1631.14 -755.18L1636.15 -758.20L1641.04 -761.14L1645.81 -764.01L1650.45 -766.78L1654.97 -769.45L1659.37 -772.01L1663.64 -774.46L1667.78 -776.78L1671.80 -778.99L1675.69 -781.06L1679.45 -782.99L1683.08 -784.79L1686.58 -786.44L1689.94 -787.95L1693.18 -789.32L1696.28 -790.53L1699.25 -791.60L1702.08 -792.53L1704.79 -793.31L1707.35 -793.94L1709.78 -794.43L1712.07 -794.78L1714.23 -795.00L1716.25 -795.11L1718.13 -795.28L1719.88 -795.32L1721.48 -795.25L1722.95 -795.07L1724.28 -794.76L1725.47 -794.34L1726.52 -793.81L1727.43 -793.16L1728.20 -792.39L1728.83 -791.50L1729.32 -790.50L1729.67 -789.39L1729.88 -788.16L1729.95 -786.81" stroke="#0471B8" stroke-width="2.25"/>
<path d="M1729.95 -786.81L1729.89 -785.77L1729.68 -784.61L1729.34 -783.34L1728.86 -781.95L1728.25 -780.45L1727.50 -778.83L1726.62 -777.11L1725.60 -775.27L1724.44 -773.32L1723.15 -771.25L1721.73 -768.87L1720.16 -766.23L1718.47 -763.48L1716.64 -760.59L1714.68 -757.60L1712.58 -754.49L1710.36 -751.28L1708.00 -747.96L1705.50 -744.54L1702.88 -741.03L1700.13 -737.42L1697.24 -733.71L1694.23 -729.90L1691.08 -726.00L1687.81 -722.00L1684.41 -717.90L1680.89 -713.69L1677.24 -709.38L1673.46 -704.96L1669.56 -700.42L1665.53 -695.78L1661.38 -691.04L1657.11 -686.19L1652.72 -681.23L1648.21 -676.17L1643.57 -671.01L1638.82 -665.75L1633.95 -660.39L1628.97 -654.93L1623.87 -649.39L1618.65 -643.75L1613.33 -638.01L1607.88 -632.19L1602.33 -626.29L1596.67 -620.30L1590.90 -614.23L1585.02 -608.08L1579.04 -601.85L1572.95 -595.55L1566.75 -589.18L1560.45 -582.74L1554.06 -576.23L1547.56 -569.66L1540.96 -563.02L1534.27 -556.33L1527.48 -549.57L1520.59 -542.75L1513.61 -535.88L1506.54 -528.95L1499.38 -521.96L1492.13 -514.92L1484.79 -507.82L1477.37 -500.67L1469.86 -493.47L1462.27 -486.21L1454.60 -478.91L1446.85 -471.55L1439.02 -464.14L1431.12 -456.68L1423.14 -449.18L1415.09 -441.62L1406.96 -434.02L1398.77 -426.37L1390.50 -418.67L1382.17 -410.93L1373.78 -403.14L1365.32 -395.31L1356.81 -387.43L1348.23 -379.51L1339.59 -371.55L1330.90 -363.55L1322.15 -355.52L1313.36 -347.45L1304.51 -339.36L1295.61 -331.23L1286.67 -323.09L1277.68 -314.92L1268.64 -306.72L1259.57 -298.52L1250.46 -290.29L1241.31 -282.06L1232.12 -273.81L1222.90 -265.56L1213.65 -257.30L1204.36 -249.04L1195.05 -240.78L1185.72 -232.53L1176.35 -224.28L1166.97 -216.04L1157.57 -207.82L1148.14 -199.61L1138.70 -191.41L1129.25 -183.23L1119.78 -175.08L1110.31 -166.95L1100.82 -158.85L1091.33 -150.78L1081.83 -142.73L1072.33 -134.71L1062.83 -126.72L1053.33 -118.76L1043.83 -110.83L1034.33 -102.93L1024.85 -95.06L1015.37 -87.23L1005.90 -79.42L996.45 -71.65L987.01 -63.91L977.59 -56.21L968.18 -48.53L958.80 -40.90L949.44 -33.29L940.10 -25.73L930.79 -18.20L921.51 -10.70L912.26 -3.24L903.03 4.18L893.85 11.56L884.70 18.91L875.58 26.21L866.51 33.48L857.48 40.70L848.49 47.89L839.54 55.03L830.65 62.12L821.80 69.17L813.00 76.17L804.25 83.12L795.56 90.01L786.93 96.84L778.35 103.62L769.83 110.33L761.37 116.98L752.98 123.56L744.65 130.07L736.39 136.51L728.19 142.88L720.07 149.18L712.02 155.39L704.04 161.53L696.13 167.58L688.30 173.55L680.55 179.44L672.88 185.23L665.29 190.94L657.78 196.56L650.36 202.08L643.02 207.51L635.77 212.84L628.61 218.07L621.54 223.20L614.56 228.23L607.68 233.15L600.89 237.97L594.19 242.69L587.60 247.29L581.10 251.79L574.70 256.18L568.40 260.46L562.21 264.62L556.12 268.67L550.13 272.61L544.25 276.43L538.48 280.13L532.82 283.72L527.27 287.18L521.83 290.53L516.50 293.77L511.29 296.88L506.19 299.87L501.20 302.74L496.33 305.49L491.58 308.12L486.95 310.62L482.44 313.01L478.04 315.28L473.77 317.42L469.62 319.44L465.60 321.34L461.70 323.12L457.92 324.78L454.27 326.32L450.74 327.74L447.34 329.04L444.07 330.23L440.93 331.29L437.91 332.24L435.03 333.07L432.27 333.79L429.65 334.39L427.16 334.89L424.80 335.26L422.57 335.53L420.48 335.69L418.51 335.74L416.68 335.68L414.99 335.52L413.43 335.26L412.00 334.97L410.71 334.60L409.56 334.10L408.54 333.50L407.65 332.77L406.90 331.93L406.29 330.98L405.81 329.90L405.47 328.72L405.27 327.42L405.20 326.00" stroke="#0471B8" stroke-width="2.25"/>
<path d="M405.20 326.00L405.27 324.27L405.46 322.44L405.79 320.50L406.26 318.45L406.85 316.30L407.58 314.04L408.43 311.67L409.42 309.20L410.54 306.62L411.79 303.94L413.18 301.15L414.69 298.26L416.33 295.27L418.10 292.17L420.00 288.98L422.04 284.83L424.19 280.35L426.48 275.95L428.90 271.64L431.44 267.43L434.11 263.34L436.91 259.36L439.83 255.48L442.87 251.69L446.04 247.96L449.34 244.28L452.75 240.60L456.29 236.90L459.95 233.12L463.74 229.27L467.64 225.35L471.66 221.35L475.80 217.26L480.06 213.10L484.43 208.85L488.92 204.52L493.52 200.10L498.24 195.60L503.07 191.01L508.02 186.33L513.07 181.56L518.24 176.70L523.51 171.76L528.89 166.72L534.38 161.59L539.97 156.38L545.67 151.08L551.47 145.68L557.37 140.20L563.37 134.64L569.48 128.99L575.68 123.25L581.98 117.43L588.37 111.53L594.86 105.54L601.44 99.48L608.11 93.34L614.88 87.13L621.73 80.84L628.67 74.48L635.70 68.05L642.81 61.55L650.00 54.99L657.28 48.37L664.63 41.69L672.07 34.96L679.58 28.17L687.17 21.33L694.83 14.44L702.56 7.51L710.37 0.53L718.24 -6.48L726.18 -13.52L734.19 -20.60L742.26 -27.70L750.40 -34.82L758.60 -41.97L766.85 -49.13L775.16 -56.31L783.53 -63.51L791.96 -70.72L800.43 -77.94L808.96 -85.18L817.54 -92.42L826.16 -99.68L834.83 -106.94L843.54 -114.21L852.29 -121.49L861.09 -128.77L869.92 -136.06L878.79 -143.36L887.69 -150.66L896.63 -157.96L905.60 -165.26L914.60 -172.56L923.62 -179.86L932.67 -187.16L941.74 -194.46L950.84 -201.76L959.95 -209.06L969.08 -216.35L978.23 -223.63L987.39 -230.91L996.57 -238.19L1005.75 -245.45L1014.95 -252.71L1024.15 -259.96L1033.35 -267.20L1042.56 -274.44L1051.77 -281.66L1060.98 -288.87L1070.18 -296.06L1079.38 -303.25L1088.58 -310.42L1097.76 -317.57L1106.94 -324.71L1116.10 -331.84L1125.25 -338.95L1134.38 -346.04L1143.50 -353.11L1152.59 -360.16L1161.66 -367.19L1170.71 -374.20L1179.74 -381.19L1188.73 -388.16L1197.70 -395.10L1206.64 -402.02L1215.54 -408.91L1224.41 -415.78L1233.24 -422.62L1242.04 -429.43L1250.79 -436.21L1259.51 -442.96L1268.17 -449.68L1276.80 -456.36L1285.37 -463.01L1293.90 -469.62L1302.38 -476.20L1310.80 -482.73L1319.17 -489.22L1327.48 -495.66L1335.74 -502.06L1343.93 -508.40L1352.07 -514.70L1360.14 -520.95L1368.15 -527.14L1376.09 -533.27L1383.97 -539.35L1391.77 -545.37L1399.51 -551.32L1407.17 -557.22L1414.75 -563.04L1422.27 -568.80L1429.70 -574.49L1437.06 -580.11L1444.33 -585.66L1451.53 -591.14L1458.64 -596.53L1465.66 -601.86L1472.60 -607.10L1479.46 -612.26L1486.22 -617.33L1492.89 -622.32L1499.47 -627.22L1505.96 -632.03L1512.36 -636.74L1518.66 -641.36L1524.86 -645.87L1530.96 -650.28L1536.96 -654.59L1542.87 -658.79L1548.67 -662.89L1554.36 -666.87L1559.96 -670.74L1565.44 -674.49L1570.82 -678.14L1576.10 -681.66L1581.26 -685.07L1586.32 -688.35L1591.26 -691.52L1596.09 -694.57L1600.81 -697.49L1605.41 -700.29L1609.90 -702.97L1614.28 -705.53L1618.53 -707.97L1622.67 -710.28L1626.70 -712.47L1630.60 -714.54L1634.38 -716.48L1638.04 -718.31L1641.58 -720.01L1645.00 -721.60L1648.29 -723.07L1651.46 -724.42L1654.51 -725.65L1657.43 -726.77L1660.22 -727.78L1662.89 -728.68L1665.44 -729.48L1667.85 -730.16L1670.14 -730.74L1672.30 -731.23L1674.33 -731.61L1676.23 -731.90L1678.00 -732.09L1679.64 -732.28L1681.16 -732.51L1682.54 -732.63L1683.79 -732.63L1684.91 -732.53L1685.90 -732.32L1686.76 -731.99L1687.48 -731.56L1688.08 -731.02L1688.54 -730.37L1688.87 -729.62L1689.07 -728.75L1689.13 -727.77" stroke="#0471B8" stroke-width="2.25"/>
<path d="M1689.13 -727.77L1689.07 -727.24L1688.86 -726.61L1688.52 -725.86L1688.04 -725.01L1687.43 -724.05L1686.68 -722.98L1685.80 -721.80L1684.78 -720.52L1683.63 -719.13L1682.34 -717.63L1680.92 -716.02L1679.36 -714.31L1677.67 -712.49L1675.84 -710.57L1673.88 -708.55L1671.79 -706.41L1669.56 -703.25L1667.21 -699.67L1664.72 -696.14L1662.10 -692.67L1659.35 -689.26L1656.47 -685.91L1653.46 -682.61L1650.32 -679.35L1647.05 -676.10L1643.66 -672.84L1640.14 -669.54L1636.49 -666.14L1632.72 -662.62L1628.82 -658.97L1624.80 -655.19L1620.66 -651.27L1616.40 -647.22L1612.01 -643.04L1607.50 -638.73L1602.88 -634.29L1598.13 -629.71L1593.27 -625.01L1588.29 -620.19L1583.20 -615.24L1577.99 -610.18L1572.67 -604.99L1567.24 -599.70L1561.70 -594.29L1556.04 -588.78L1550.28 -583.17L1544.41 -577.47L1538.43 -571.67L1532.35 -565.80L1526.17 -559.84L1519.88 -553.81L1513.49 -547.71L1507.00 -541.56L1500.41 -535.35L1493.73 -529.08L1486.95 -522.76L1480.07 -516.38L1473.10 -509.94L1466.04 -503.46L1458.89 -496.91L1451.65 -490.32L1444.33 -483.67L1436.92 -476.96L1429.42 -470.20L1421.84 -463.38L1414.18 -456.51L1406.44 -449.58L1398.62 -442.60L1390.73 -435.56L1382.76 -428.45L1374.72 -421.30L1366.61 -414.08L1358.42 -406.80L1350.17 -399.46L1341.86 -392.05L1333.48 -384.59L1325.03 -377.06L1316.52 -369.46L1307.96 -361.80L1299.34 -354.09L1290.66 -346.31L1281.93 -338.48L1273.14 -330.60L1264.30 -322.67L1255.42 -314.69L1246.49 -306.67L1237.51 -298.60L1228.49 -290.50L1219.43 -282.36L1210.33 -274.19L1201.19 -265.99L1192.02 -257.77L1182.81 -249.52L1173.57 -241.25L1164.30 -232.96L1155.01 -224.65L1145.68 -216.34L1136.34 -208.02L1126.97 -199.69L1117.58 -191.36L1108.17 -183.03L1098.74 -174.71L1089.30 -166.40L1079.85 -158.09L1070.38 -149.80L1060.91 -141.53L1051.43 -133.28L1041.95 -125.05L1032.46 -116.84L1022.97 -108.66L1013.49 -100.51L1004.00 -92.40L994.52 -84.31L985.05 -76.27L975.59 -68.26L966.13 -60.29L956.69 -52.37L947.27 -44.49L937.86 -36.66L928.47 -28.88L919.10 -21.15L909.75 -13.47L900.43 -5.85L891.13 1.71L881.86 9.21L872.62 16.64L863.41 24.01L854.24 31.32L845.10 38.56L836.00 45.73L826.94 52.82L817.92 59.84L808.94 66.79L800.01 73.66L791.13 80.46L782.29 87.17L773.51 93.81L764.78 100.37L756.10 106.86L747.47 113.26L738.91 119.58L730.40 125.83L721.96 132.00L713.58 138.08L705.26 144.09L697.01 150.02L688.83 155.86L680.71 161.63L672.67 167.31L664.70 172.91L656.81 178.43L648.99 183.87L641.25 189.23L633.59 194.50L626.01 199.69L618.52 204.80L611.11 209.82L603.78 214.76L596.54 219.61L589.39 224.38L582.33 229.06L575.36 233.66L568.49 238.17L561.70 242.60L555.02 246.93L548.43 251.18L541.94 255.35L535.55 259.42L529.27 263.40L523.08 267.30L517.00 271.10L511.02 274.81L505.15 278.44L499.39 281.96L493.74 285.40L488.19 288.74L482.76 291.99L477.44 295.14L472.23 298.20L467.14 301.15L462.16 304.01L457.30 306.78L452.56 309.44L447.93 312.00L443.42 314.46L439.04 316.81L434.77 319.06L430.63 321.21L426.61 323.25L422.71 325.19L418.94 327.02L415.29 328.73L411.77 330.34L408.38 331.83L405.11 333.21L401.98 334.48L398.97 335.63L396.09 336.66L393.34 337.57L390.72 338.36L388.23 339.01L385.87 339.51L383.65 339.85L381.55 340.03L379.59 340.05L377.77 339.90L376.08 339.58L374.52 339.12L373.09 338.50L371.80 337.75L370.65 336.87L369.63 335.89L368.75 335.00L368.00 334.11L367.39 333.10L366.91 331.99L366.57 330.77L366.37 329.44L366.30 328.00" stroke="#0471B8" stroke-width="2.25"/>
<path d="M1644.51 -731.99L1644.47 -731.55L1644.35 -731.05L1644.13 -730.47L1643.84 -729.82L1643.46 -729.09L1643.00 -728.30L1642.45 -727.43L1641.82 -726.50L1641.10 -725.49L1640.30 -724.41L1639.42 -723.26L1638.45 -722.04L1637.40 -720.75L1636.26 -719.39L1635.05 -717.96L1633.75 -716.46L1632.36 -714.89L1630.90 -713.25L1629.35 -711.54L1627.72 -709.77L1626.00 -707.92L1624.21 -706.00L1622.33 -703.05L1620.37 -699.83L1618.33 -696.50L1616.21 -693.08L1614.01 -689.56L1611.73 -685.97L1609.37 -682.29L1606.93 -678.55L1604.41 -674.75L1601.81 -670.89L1599.14 -666.99L1596.38 -663.04L1593.55 -659.06L1590.64 -655.05L1587.65 -651.02L1584.59 -646.97L1581.45 -642.89L1578.24 -638.80L1574.94 -634.70L1571.58 -630.58L1568.14 -626.46L1564.63 -622.32L1561.04 -618.18L1557.38 -614.03L1553.64 -609.87L1549.84 -605.71L1545.96 -601.54L1542.02 -597.37L1538.00 -593.18L1533.91 -588.99L1529.76 -584.78L1525.53 -580.56L1521.24 -576.33L1516.88 -572.08L1512.45 -567.81L1507.96 -563.52L1503.40 -559.21L1498.77 -554.86L1494.09 -550.48L1489.33 -546.06L1484.52 -541.61L1479.64 -537.11L1474.70 -532.55L1469.70 -527.95L1464.64 -523.30L1459.52 -518.60L1454.34 -513.85L1449.10 -509.06L1443.80 -504.21L1438.45 -499.32L1433.04 -494.38L1427.58 -489.39L1422.06 -484.35L1416.49 -479.27L1410.86 -474.15L1405.18 -468.98L1399.45 -463.77L1393.67 -458.51L1387.84 -453.21L1381.96 -447.87L1376.03 -442.48L1370.06 -437.06L1364.03 -431.60L1357.96 -426.10L1351.85 -420.56L1345.69 -414.98L1339.49 -409.36L1333.25 -403.71L1326.96 -398.03L1320.64 -392.31L1314.27 -386.56L1307.86 -380.77L1301.42 -374.96L1294.94 -369.11L1288.42 -363.24L1281.87 -357.34L1275.28 -351.41L1268.66 -345.45L1262.00 -339.47L1255.32 -333.47L1248.60 -327.44L1241.85 -321.39L1235.08 -315.32L1228.27 -309.23L1221.44 -303.12L1214.58 -297.00L1207.70 -290.86L1200.79 -284.70L1193.86 -278.53L1186.90 -272.35L1179.92 -266.16L1172.93 -259.95L1165.91 -253.74L1158.87 -247.52L1151.82 -241.29L1144.75 -235.06L1137.66 -228.82L1130.56 -222.58L1123.45 -216.34L1116.32 -210.10L1109.18 -203.86L1102.03 -197.62L1094.87 -191.38L1087.70 -185.15L1080.52 -178.92L1073.33 -172.70L1066.14 -166.49L1058.95 -160.29L1051.75 -154.10L1044.54 -147.92L1037.34 -141.75L1030.13 -135.59L1022.92 -129.45L1015.72 -123.32L1008.51 -117.20L1001.31 -111.10L994.11 -105.02L986.92 -98.95L979.73 -92.89L972.55 -86.86L965.38 -80.85L958.22 -74.85L951.06 -68.88L943.92 -62.92L936.78 -56.99L929.67 -51.08L922.56 -45.20L915.47 -39.33L908.39 -33.49L901.33 -27.68L894.29 -21.89L887.27 -16.13L880.26 -10.40L873.28 -4.70L866.32 0.98L859.38 6.63L852.46 12.25L845.57 17.83L838.70 23.39L831.86 28.91L825.05 34.40L818.26 39.86L811.50 45.29L804.78 50.67L798.08 56.03L791.41 61.35L784.78 66.63L778.18 71.87L771.62 77.08L765.09 82.25L758.59 87.38L752.14 92.47L745.72 97.52L739.34 102.53L733.00 107.49L726.70 112.42L720.44 117.30L714.23 122.14L708.05 126.94L701.93 131.69L695.84 136.39L689.80 141.05L683.81 145.67L677.87 150.24L671.97 154.76L666.13 159.23L660.33 163.65L654.58 168.03L648.89 172.35L643.24 176.62L637.65 180.85L632.11 185.02L626.63 189.14L621.20 193.21L615.83 197.22L610.52 201.18L605.26 205.09L600.06 208.94L594.92 212.74L589.84 216.48L584.82 220.16L579.86 223.79L574.96 227.36L570.12 230.87L565.35 234.33L560.64 237.72L555.99 241.06L551.41 244.33L546.90 247.55L542.45 250.70L538.06 253.80L533.75 256.83L529.50 259.80L525.32 262.70L521.21 265.54L517.17 268.32L513.20 271.03L484.50 287.60L456.60 302.80L434.00 302.80L434.00 279.20L434.00 279.20L434.06 278.65L434.25 277.99L434.56 277.23L435.00 276.36L435.56 275.39L436.24 274.32L437.05 273.14L437.98 271.87L439.04 270.48L440.22 269.00L441.52 267.42L442.95 265.73L444.49 263.94L446.17 262.05L447.96 260.07L449.87 257.98L451.91 255.79L454.07 253.50L456.34 251.10L458.74 248.33L461.26 245.45L463.89 242.45L466.65 239.34L469.52 236.11L472.51 232.78L475.61 229.34L478.83 225.79L482.17 222.13L485.62 218.38L489.19 214.52L492.87 210.56L496.66 206.50L500.56 202.35L504.58 198.10L508.70 193.75L512.93 189.32L517.27 184.79L521.72 180.18L526.28 175.48L530.94 170.69L535.70 165.82L540.57 160.87L545.54 155.84L550.62 150.72L555.79 145.53L561.06 140.26L566.43 134.92L571.90 129.51L577.47 124.02L583.13 118.46L588.88 112.83L594.73 107.14L600.67 101.38L606.70 95.55L612.81 89.67L619.02 83.72L625.31 77.70L631.69 71.63L638.15 65.51L644.69 59.32L651.31 53.08L658.02 46.79L664.80 40.44L671.66 34.05L678.60 27.60L685.61 21.10L692.69 14.56L699.84 7.97L707.07 1.34L714.36 -5.34L721.72 -12.06L729.14 -18.82L736.63 -25.63L744.18 -32.47L751.79 -39.34L759.46 -46.26L767.19 -53.21L774.97 -60.19L782.81 -67.21L790.70 -74.26L798.64 -81.34L806.63 -88.45L814.67 -95.59L822.76 -102.75L830.89 -109.94L839.06 -117.16L847.27 -124.40L855.53 -131.66L863.82 -138.95L872.15 -146.25L880.51 -153.57L888.90 -160.90L897.33 -168.25L905.78 -175.62L914.27 -182.99L922.77 -190.37L931.31 -197.76L939.86 -205.15L948.44 -212.55L957.03 -219.95L965.64 -227.35L974.26 -234.75L982.90 -242.14L991.55 -249.53L1000.21 -256.92L1008.88 -264.29L1017.56 -271.66L1026.23 -279.01L1034.92 -286.35L1043.60 -293.67L1052.28 -300.97L1060.96 -308.26L1069.63 -315.53L1078.30 -322.77L1086.96 -329.99L1095.61 -337.19L1104.25 -344.36L1112.88 -351.49L1121.49 -358.60L1130.08 -365.68L1138.65 -372.72L1147.21 -379.73L1155.74 -386.70L1164.25 -393.63L1172.73 -400.52L1181.18 -407.37L1189.61 -414.18L1198.00 -420.94L1206.37 -427.66L1214.69 -434.33L1222.99 -440.95L1231.24 -447.52L1239.45 -454.03L1247.63 -460.50L1255.76 -466.91L1263.84 -473.26L1271.88 -479.56L1279.87 -485.80L1287.81 -491.98L1295.71 -498.09L1303.54 -504.15L1311.33 -510.14L1319.05 -516.07L1326.72 -521.93L1334.34 -527.72L1341.89 -533.45L1349.37 -539.11L1356.80 -544.69L1364.16 -550.21L1371.45 -555.65L1378.67 -561.02L1385.83 -566.31L1392.91 -571.53L1399.92 -576.67L1406.85 -581.74L1413.71 -586.72L1420.50 -591.63L1427.20 -596.46L1433.82 -601.21L1440.37 -605.87L1446.83 -610.46L1453.20 -614.96L1459.50 -619.38L1465.70 -623.71L1471.82 -627.96L1477.85 -632.12L1483.78 -636.20L1489.63 -640.20L1495.39 -644.11L1501.05 -647.94L1506.61 -651.69L1512.08 -655.36L1517.45 -658.95L1522.72 -662.46L1527.90 -665.89L1532.97 -669.25L1537.94 -672.54L1542.81 -675.75L1547.58 -678.89L1552.24 -681.95L1556.79 -684.94L1561.24 -687.85L1565.58 -690.69L1569.82 -693.46L1573.94 -696.16L1577.95 -698.78L1581.86 -701.32L1585.65 -703.79L1589.33 -706.18L1592.89 -708.50L1596.34 -710.73L1599.68 -712.89L1602.90 -714.96L1606.01 -716.95L1609.00 -718.86L1611.87 -720.67L1614.62 -722.40L1617.26 -724.04L1619.77 -725.59L1622.17 -727.03L1624.45 -728.22L1626.61 -729.32L1628.64 -730.31L1630.56 -731.20L1632.35 -731.98L1634.02 -732.66L1635.57 -733.23L1636.99 -733.71L1638.30 -734.07L1639.48 -734.33L1640.53 -734.49L1641.47 -734.54L1642.27 -734.49L1642.96 -734.34L1643.52 -734.08L1643.95 -733.71L1644.27 -733.24L1644.45 -732.67L1644.51 -731.99" stroke="#FF8103" stroke-width="2.25" stroke-linejoin="miter"/>
<path d="M1644.51 -731.99L1644.48 -731.65L1644.39 -731.26L1644.24 -730.81L1644.02 -730.32L1643.74 -729.77L1643.40 -729.16L1643.00 -728.51L1642.53 -727.80L1642.01 -727.04L1641.42 -726.22L1640.77 -725.35L1640.06 -724.43L1639.29 -723.46L1638.45 -722.44L1637.56 -721.36L1636.60 -720.23L1635.58 -719.05L1634.50 -717.82L1633.36 -716.54L1632.16 -715.20L1630.90 -713.81L1629.58 -712.38L1628.20 -710.89L1626.76 -709.35L1625.25 -707.76L1623.69 -706.11L1622.07 -703.78L1620.39 -701.15L1618.64 -698.43L1616.84 -695.62L1614.98 -692.72L1613.06 -689.74L1611.09 -686.69L1609.05 -683.57L1606.95 -680.39L1604.80 -677.15L1602.59 -673.86L1600.32 -670.52L1598.00 -667.15L1595.61 -663.75L1593.17 -660.32L1590.68 -656.87L1588.12 -653.40L1585.51 -649.92L1582.85 -646.42L1580.12 -642.90L1577.35 -639.37L1574.52 -635.84L1571.63 -632.29L1568.69 -628.74L1565.69 -625.18L1562.64 -621.61L1559.54 -618.04L1556.38 -614.46L1553.17 -610.88L1549.91 -607.30L1546.60 -603.70L1543.23 -600.11L1539.81 -596.50L1536.34 -592.89L1532.82 -589.28L1529.25 -585.65L1525.63 -582.02L1521.96 -578.37L1518.24 -574.71L1514.47 -571.04L1510.65 -567.36L1506.78 -563.65L1502.86 -559.93L1498.90 -556.18L1494.89 -552.41L1490.84 -548.62L1486.73 -544.79L1482.58 -540.93L1478.39 -537.04L1474.15 -533.11L1469.87 -529.15L1465.54 -525.15L1461.17 -521.11L1456.75 -517.04L1452.29 -512.94L1447.79 -508.80L1443.25 -504.62L1438.66 -500.42L1434.04 -496.18L1429.37 -491.90L1424.67 -487.60L1419.92 -483.26L1415.14 -478.89L1410.31 -474.49L1405.45 -470.05L1400.55 -465.59L1395.62 -461.10L1390.64 -456.57L1385.63 -452.02L1380.59 -447.44L1375.51 -442.83L1370.39 -438.19L1365.25 -433.52L1360.06 -428.83L1354.85 -424.11L1349.60 -419.37L1344.32 -414.60L1339.01 -409.80L1333.67 -404.98L1328.29 -400.14L1322.89 -395.27L1317.46 -390.39L1312.00 -385.48L1306.51 -380.55L1300.99 -375.59L1295.45 -370.62L1289.88 -365.63L1284.28 -360.62L1278.66 -355.60L1273.02 -350.55L1267.35 -345.49L1261.65 -340.41L1255.93 -335.32L1250.20 -330.21L1244.43 -325.09L1238.65 -319.95L1232.85 -314.81L1227.02 -309.65L1221.18 -304.47L1215.32 -299.29L1209.44 -294.10L1203.54 -288.90L1197.63 -283.69L1191.69 -278.48L1185.75 -273.25L1179.78 -268.02L1173.80 -262.79L1167.81 -257.55L1161.81 -252.30L1155.79 -247.06L1149.76 -241.81L1143.72 -236.56L1137.66 -231.30L1131.60 -226.05L1125.52 -220.80L1119.44 -215.55L1113.35 -210.30L1107.25 -205.05L1101.14 -199.81L1095.03 -194.57L1088.91 -189.34L1082.78 -184.11L1076.65 -178.89L1070.52 -173.68L1064.38 -168.47L1058.24 -163.28L1052.09 -158.09L1045.95 -152.91L1039.80 -147.74L1033.65 -142.58L1027.51 -137.44L1021.36 -132.31L1015.22 -127.19L1009.07 -122.08L1002.93 -116.99L996.80 -111.91L990.66 -106.85L984.53 -101.80L978.41 -96.77L972.29 -91.76L966.18 -86.76L960.07 -81.78L953.98 -76.83L947.89 -71.89L941.81 -66.97L935.74 -62.07L929.68 -57.19L923.63 -52.34L917.59 -47.50L911.56 -42.69L905.55 -37.91L899.54 -33.14L893.56 -28.40L887.58 -23.69L881.63 -19.00L875.68 -14.33L869.76 -9.69L863.85 -5.08L857.95 -0.50L852.08 4.06L846.22 8.59L840.39 13.09L834.57 17.56L828.77 22.00L823.00 26.41L817.24 30.79L811.51 35.15L805.80 39.47L800.11 43.76L794.45 48.02L788.81 52.24L783.20 56.44L777.61 60.60L772.05 64.73L766.52 68.82L761.01 72.88L755.53 76.91L750.08 80.90L744.66 84.86L739.26 88.79L733.90 92.68L728.57 96.53L723.27 100.35L718.00 104.13L712.76 107.88L707.55 111.59L702.38 115.26L697.24 118.90L692.14 122.50L687.07 126.07L682.04 129.60L677.04 133.09L672.08 136.54" stroke="#FF8103" stroke-width="2.25" stroke-linejoin="miter"/>
<path d="M1644.51 -731.99L1644.46 -732.61L1644.28 -733.13L1644.00 -733.55L1643.60 -733.88L1643.08 -734.11L1642.45 -734.24L1641.70 -734.27L1640.85 -734.20L1639.87 -734.04L1638.79 -733.78L1637.58 -733.42L1636.27 -732.97L1634.84 -732.41L1633.30 -731.76L1631.65 -731.01L1629.89 -730.17L1628.01 -729.23L1626.02 -728.19L1623.93 -727.05L1621.72 -725.80L1619.40 -724.33L1616.97 -722.78L1614.43 -721.14L1611.78 -719.42L1609.03 -717.61L1606.17 -715.73L1603.20 -713.76L1600.12 -711.72L1596.94 -709.60L1593.66 -707.41L1590.27 -705.15L1586.78 -702.82L1583.18 -700.41L1579.48 -697.93L1575.68 -695.38L1571.78 -692.77L1567.78 -690.08L1563.68 -687.33L1559.48 -684.50L1555.19 -681.61L1550.80 -678.65L1546.31 -675.62L1541.73 -672.52L1537.05 -669.35L1532.29 -666.10L1527.43 -662.79L1522.48 -659.41L1517.44 -655.95L1512.31 -652.41L1507.09 -648.80L1501.79 -645.12L1496.40 -641.35L1490.93 -637.51L1485.38 -633.58L1479.74 -629.58L1474.02 -625.50L1468.23 -621.34L1462.35 -617.10L1456.40 -612.79L1450.37 -608.40L1444.26 -603.93L1438.08 -599.39L1431.83 -594.78L1425.51 -590.09L1419.12 -585.33L1412.66 -580.50L1406.14 -575.60L1399.54 -570.63L1392.89 -565.60L1386.17 -560.49L1379.39 -555.32L1372.55 -550.08L1365.65 -544.78L1358.69 -539.42L1351.68 -533.99L1344.61 -528.51L1337.49 -522.96L1330.32 -517.36L1323.09 -511.70L1315.82 -505.98L1308.50 -500.21L1301.14 -494.39L1293.73 -488.51L1286.28 -482.58L1278.79 -476.61L1271.26 -470.58L1263.69 -464.51L1256.08 -458.40L1248.44 -452.24L1240.77 -446.03L1233.06 -439.79L1225.33 -433.51L1217.56 -427.18L1209.77 -420.82L1201.96 -414.43L1194.12 -408.00L1186.25 -401.54L1178.37 -395.05L1170.47 -388.53L1162.55 -381.98L1154.62 -375.41L1146.67 -368.81L1138.71 -362.19L1130.74 -355.54L1122.76 -348.88L1114.77 -342.20L1106.78 -335.50L1098.78 -328.78L1090.78 -322.06L1082.78 -315.31L1074.78 -308.56L1066.78 -301.80L1058.79 -295.04L1050.80 -288.26L1042.82 -281.49L1034.85 -274.71L1026.89 -267.93L1018.94 -261.15L1011.01 -254.37L1003.09 -247.59L995.19 -240.82L987.30 -234.06L979.44 -227.31L971.60 -220.56L963.79 -213.83L956.00 -207.11L948.23 -200.40L940.50 -193.71L932.79 -187.04L925.12 -180.39L917.48 -173.76L909.87 -167.15L902.30 -160.56L894.77 -154.00L887.28 -147.46L879.83 -140.95L872.42 -134.46L865.06 -128.00L857.74 -121.57L850.47 -115.17L843.24 -108.80L836.07 -102.45L828.95 -96.14L821.88 -89.86L814.87 -83.61L807.91 -77.39L801.01 -71.20L794.17 -65.05L787.39 -58.94L780.67 -52.86L774.01 -46.82L767.42 -40.81L760.90 -34.85L754.44 -28.92L748.05 -23.03L741.73 -17.18L735.48 -11.38L729.30 -5.61L723.19 0.11L717.16 5.78L711.21 11.41L705.33 16.99L699.54 22.53L693.82 28.01L688.18 33.44L682.63 38.82L677.15 44.14L671.77 49.41L666.46 54.61L661.25 59.76L656.12 64.85L651.08 69.87L646.13 74.83L641.27 79.72L636.51 84.55L631.83 89.30L627.25 93.99L622.76 98.61L618.37 103.15L614.08 107.62L609.88 112.01L605.78 116.33L601.78 120.56L597.88 124.72L594.08 128.80L590.38 132.80L586.78 136.71L583.29 140.54L579.90 144.29L576.61 147.95L573.43 151.53L570.36 155.01L567.39 158.41L564.53 161.72L561.77 164.94L559.13 168.07L556.59 171.10L554.16 174.05L551.84 176.90L549.63 179.66L547.54 182.32L545.55 184.89L543.67 187.36L541.91 189.74L540.26 192.02L538.72 194.19L537.29 196.26L535.97 198.23L534.77 200.11L533.69 201.90L532.71 203.59L531.85 205.18L531.11 206.68L530.48 208.09L529.96 209.39L529.56 210.60L529.27 211.72L529.10 212.74L529.05 213.66" stroke="#FF8103" stroke-width="2.25" stroke-linejoin="miter"/>
<path d="M529.05 213.66L529.05 213.78L529.05 213.91L529.05 214.03L529.06 214.15L529.07 214.27L529.08 214.38L529.10 214.50L529.11 214.61L529.13 214.72L529.15 214.83L529.18 214.94L529.20 215.04L529.23 215.15L529.26 215.25L529.29 215.35L529.32 215.45L529.36 215.54L529.40 215.64L529.44 215.73L529.48 215.82L529.52 215.91L529.57 216.00L529.62 216.08L529.67 216.16L529.72 216.25L529.78 216.33L529.84 216.40L529.90 216.48L529.96 216.55L530.02 216.63L530.09 216.70L530.16 216.76L530.23 216.83L530.30 216.90L530.37 216.96L530.45 217.02L530.53 217.08L530.61 217.14L530.70 217.19L530.78 217.24L530.87 217.30L530.96 217.35L531.05 217.39L531.15 217.44L531.24 217.48L531.34 217.53L531.44 217.57L531.54 217.61L531.65 217.64L531.76 217.68L531.87 217.71L531.98 217.74L532.09 217.77L532.21 217.80L532.33 217.83L532.45 217.85L532.57 217.87L532.69 217.89L532.82 217.91L532.95 217.93L533.08 217.94L533.21 217.95L533.35 217.97L533.49 217.97L533.63 217.98L533.77 217.99L533.91 217.99L534.06 217.99L534.21 217.99L534.36 217.99L534.51 217.99L534.66 217.98L534.82 217.97L534.98 217.96L535.14 217.95L535.30 217.94L535.47 217.92L535.64 217.91L535.81 217.89L535.98 217.87L536.15 217.84L536.33 217.82L536.51 217.79L536.69 217.77L536.87 217.74L537.06 217.70L537.24 217.67L537.43 217.63L537.62 217.60L537.82 217.56L538.01 217.52L538.21 217.47L538.41 217.43L538.61 217.38L538.81 217.33L539.02 217.28L539.23 217.23L539.44 217.17L539.65 217.12L539.87 217.06L540.08 216.99L540.30 216.93L540.52 216.86L540.75 216.80L540.97 216.73L541.20 216.65L541.43 216.58L541.66 216.51L541.89 216.43L542.13 216.35L542.37 216.27L542.61 216.19L542.85 216.10L543.09 216.01L543.34 215.93L543.59 215.84L543.84 215.74L544.09 215.65L544.35 215.55L544.61 215.45L544.86 215.35L545.13 215.25L545.39 215.15L545.66 215.04L545.92 214.94L546.19 214.83L546.46 214.71L546.74 214.60L547.01 214.49L547.29 214.37L547.57 214.25L547.85 214.13L548.14 214.01L548.43 213.88L548.71 213.76L549.01 213.63L549.30 213.50L549.59 213.37L549.89 213.23L550.19 213.10L550.49 212.96L550.79 212.82L551.10 212.68L551.41 212.53L551.72 212.39L552.03 212.24L552.34 212.09L552.66 211.94L552.97 211.79L553.29 211.63L553.62 211.48L553.94 211.32L554.27 211.16L554.60 211.00L554.93 210.83L555.26 210.67L555.59 210.50L555.93 210.33L556.27 210.16L556.61 209.98L556.95 209.81L557.30 209.63L557.64 209.45L557.99 209.27L558.34 209.09L558.69 208.90L559.05 208.72L559.41 208.53L559.77 208.34L560.13 208.15L560.49 207.95L560.86 207.76L561.22 207.56L561.59 207.36L561.96 207.16L562.34 206.96L562.71 206.75L563.09 206.54L563.47 206.33L563.85 206.12L564.24 205.91L564.62 205.70L565.01 205.48L565.40 205.26L565.79 205.04L566.18 204.82L566.58 204.60L566.98 204.37L567.38 204.14L567.78 203.92L568.18 203.68L568.59 203.45L569.00 203.22L569.41 202.98L569.82 202.74L570.23 202.50L570.65 202.26L571.07 202.02L571.49 201.77L571.91 201.52L572.33 201.27L572.76 201.02L573.19 200.77L573.62 200.51L574.05 200.26L574.49 200.00L574.92 199.74L575.36 199.48L575.80 199.21L576.24 198.95L576.69 198.68L577.13 198.41L577.58 198.14L578.03 197.86L578.48 197.59L578.94 197.31L579.39 197.03L579.85 196.75L580.31 196.47" stroke="#FF8103" stroke-width="2.25" stroke-linejoin="miter"/>
<path d="M401.00 328.75L401.07 326.90L401.27 324.93L401.60 322.85L402.07 320.66L402.66 318.36L403.40 315.96L404.26 313.64L405.26 311.26L406.39 308.82L407.65 306.32L409.04 303.74L410.57 301.10L412.22 298.39L414.01 295.60L415.93 292.74L417.97 289.80L420.15 286.79L422.46 283.69L424.89 280.50L427.46 277.24L430.15 273.88L432.97 270.44L435.91 266.90L438.98 263.27L442.18 259.55L445.50 255.73L448.94 251.81L452.51 247.79L456.20 243.67L460.02 239.45L463.95 235.12L468.00 230.69L472.18 226.15L476.47 221.51L480.88 216.77L485.41 211.92L490.05 206.96L494.81 201.90L499.68 196.73L504.66 191.46L509.76 186.09L514.96 180.61L520.28 175.03L525.70 169.35L531.24 163.56L536.88 157.68L542.62 151.70L548.47 145.62L554.42 139.45L560.47 133.18L566.62 126.82L572.88 120.38L579.23 113.84L585.67 107.21L592.21 100.51L598.85 93.72L605.58 86.85L612.40 79.90L619.30 72.88L626.30 65.79L633.39 58.63L640.55 51.40L647.81 44.10L655.14 36.75L662.56 29.34L670.06 21.87L677.63 14.36L685.28 6.79L693.00 -0.82L700.80 -8.47L708.67 -16.16L716.61 -23.88L724.62 -31.64L732.69 -39.42L740.83 -47.23L749.03 -55.06L757.29 -62.90L765.62 -70.76L774.00 -78.63L782.44 -86.51L790.93 -94.40L799.47 -102.31L808.07 -110.21L816.72 -118.13L825.41 -126.04L834.15 -133.97L842.93 -141.89L851.76 -149.81L860.63 -157.74L869.53 -165.66L878.47 -173.59L887.45 -181.50L896.46 -189.42L905.50 -197.33L914.57 -205.23L923.67 -213.13L932.79 -221.02L941.94 -228.90L951.11 -236.77L960.30 -244.63L969.51 -252.48L978.73 -260.32L987.97 -268.15L997.22 -275.96L1006.48 -283.76L1015.75 -291.54L1025.02 -299.31L1034.31 -307.06L1043.59 -314.79L1052.87 -322.51L1062.16 -330.21L1071.44 -337.88L1080.71 -345.54L1089.98 -353.18L1099.24 -360.79L1108.49 -368.39L1117.73 -375.96L1126.96 -383.50L1136.16 -391.02L1145.35 -398.52L1154.52 -405.99L1163.67 -413.43L1172.79 -420.85L1181.89 -428.24L1190.96 -435.59L1200.00 -442.92L1209.01 -450.22L1217.99 -457.48L1226.93 -464.72L1235.83 -471.92L1244.70 -479.08L1253.53 -486.21L1262.31 -493.30L1271.05 -500.36L1279.74 -507.37L1288.39 -514.34L1296.99 -521.26L1305.53 -528.13L1314.03 -534.94L1322.46 -541.70L1330.85 -548.40L1339.17 -555.03L1347.43 -561.60L1355.63 -568.09L1363.77 -574.52L1371.85 -580.87L1379.85 -587.15L1387.79 -593.34L1395.66 -599.46L1403.46 -605.48L1411.18 -611.42L1418.83 -617.27L1426.41 -623.03L1433.90 -628.70L1441.32 -634.27L1448.65 -639.74L1455.91 -645.11L1463.08 -650.38L1470.16 -655.54L1477.16 -660.61L1484.07 -665.56L1490.88 -670.41L1497.61 -675.16L1504.25 -679.80L1510.79 -684.36L1517.24 -688.81L1523.59 -693.17L1529.84 -697.45L1535.99 -701.63L1542.04 -705.73L1547.99 -709.74L1553.84 -713.67L1559.59 -717.51L1565.23 -721.27L1570.76 -724.96L1576.18 -728.56L1581.50 -732.08L1586.71 -735.52L1591.80 -738.89L1596.79 -742.17L1601.66 -745.37L1606.41 -748.49L1611.06 -751.53L1615.58 -754.47L1619.99 -757.31L1624.28 -760.04L1628.46 -762.65L1632.51 -765.15L1636.45 -767.52L1640.26 -769.76L1643.95 -771.87L1647.52 -773.84L1650.96 -775.68L1654.28 -777.37L1657.48 -778.92L1660.55 -780.33L1663.50 -781.59L1666.32 -782.71L1669.01 -783.69L1671.57 -784.52L1674.00 -785.22L1676.31 -785.79L1678.49 -786.22L1680.54 -786.52L1682.45 -786.70L1684.24 -786.76L1685.90 -786.80L1687.42 -786.89L1688.81 -786.87L1690.08 -786.73L1691.20 -786.48L1692.20 -786.12L1693.07 -785.63L1693.80 -785.04L1694.40 -784.32L1694.86 -783.50L1695.20 -782.55L1695.40 -781.50L1695.46 -780.33" stroke="#FF0808" stroke-width="2.25"/>
<path d="M1695.46 -780.33L1695.40 -779.68L1695.20 -778.93L1694.86 -778.06L1694.40 -777.07L1693.80 -775.98L1693.07 -774.77L1692.20 -773.44L1691.20 -772.01L1690.08 -770.45L1688.81 -768.46L1687.42 -766.29L1685.90 -763.94L1684.24 -761.43L1682.45 -758.74L1680.54 -755.89L1678.49 -752.88L1676.31 -749.71L1674.00 -746.38L1671.57 -742.90L1669.01 -739.28L1666.32 -735.52L1663.50 -731.62L1660.55 -727.59L1657.48 -723.43L1654.28 -719.16L1650.96 -714.78L1647.52 -710.29L1643.95 -705.70L1640.26 -701.01L1636.45 -696.24L1632.51 -691.38L1628.46 -686.44L1624.28 -681.42L1619.99 -676.32L1615.58 -671.15L1611.06 -665.90L1606.41 -660.57L1601.66 -655.18L1596.79 -649.72L1591.80 -644.19L1586.71 -638.59L1581.50 -632.92L1576.18 -627.19L1570.76 -621.39L1565.23 -615.53L1559.59 -609.59L1553.84 -603.59L1547.99 -597.53L1542.04 -591.39L1535.99 -585.18L1529.84 -578.90L1523.59 -572.55L1517.24 -566.12L1510.79 -559.62L1504.25 -553.05L1497.61 -546.41L1490.88 -539.69L1484.07 -532.91L1477.16 -526.06L1470.16 -519.15L1463.08 -512.17L1455.91 -505.13L1448.65 -498.02L1441.32 -490.86L1433.90 -483.63L1426.41 -476.35L1418.83 -469.02L1411.18 -461.63L1403.46 -454.18L1395.66 -446.69L1387.79 -439.14L1379.85 -431.55L1371.85 -423.91L1363.77 -416.23L1355.63 -408.50L1347.43 -400.74L1339.17 -392.93L1330.85 -385.08L1322.46 -377.20L1314.03 -369.28L1305.53 -361.33L1296.99 -353.35L1288.39 -345.35L1279.74 -337.31L1271.05 -329.26L1262.31 -321.18L1253.53 -313.09L1244.70 -304.97L1235.83 -296.85L1226.93 -288.71L1217.99 -280.56L1209.01 -272.40L1200.00 -264.23L1190.96 -256.07L1181.89 -247.90L1172.79 -239.73L1163.67 -231.56L1154.52 -223.40L1145.35 -215.25L1136.16 -207.11L1126.96 -198.98L1117.73 -190.86L1108.49 -182.77L1099.24 -174.68L1089.98 -166.63L1080.71 -158.59L1071.44 -150.57L1062.16 -142.58L1052.87 -134.61L1043.59 -126.67L1034.31 -118.75L1025.02 -110.86L1015.75 -102.99L1006.48 -95.14L997.22 -87.32L987.97 -79.53L978.73 -71.77L969.51 -64.03L960.30 -56.32L951.11 -48.63L941.94 -40.98L932.79 -33.35L923.67 -25.75L914.57 -18.18L905.50 -10.64L896.46 -3.13L887.45 4.35L878.47 11.79L869.53 19.21L860.63 26.59L851.76 33.94L842.93 41.26L834.15 48.54L825.41 55.78L816.72 62.99L808.07 70.15L799.47 77.27L790.93 84.33L782.44 91.35L774.00 98.30L765.62 105.20L757.29 112.04L749.03 118.81L740.83 125.52L732.69 132.15L724.62 138.71L716.61 145.19L708.67 151.60L700.80 157.92L693.00 164.16L685.28 170.31L677.63 176.37L670.06 182.33L662.56 188.20L655.14 193.98L647.81 199.65L640.55 205.23L633.39 210.70L626.30 216.06L619.30 221.32L612.40 226.47L605.58 231.50L598.85 236.42L592.21 241.23L585.67 245.92L579.23 250.50L572.88 254.95L566.62 259.29L560.47 263.50L554.42 267.59L548.47 271.56L542.62 275.41L536.88 279.13L531.24 282.73L525.70 286.20L520.28 289.54L514.96 292.76L509.76 295.86L504.66 298.82L499.68 301.67L494.81 304.38L490.05 306.97L485.41 309.44L480.88 311.79L476.47 314.02L472.18 316.14L468.00 318.15L463.95 320.05L460.02 321.84L456.20 323.53L452.51 325.12L448.94 326.60L445.50 327.99L442.18 329.28L438.98 330.48L435.91 331.57L432.97 332.57L430.15 333.48L427.46 334.29L424.89 335.01L422.46 335.63L420.15 336.16L417.97 336.59L415.93 336.92L414.01 337.15L412.22 337.28L410.57 337.31L409.04 337.24L407.65 337.06L406.39 336.77L405.26 336.37L404.26 335.85L403.40 335.22L402.66 334.43L402.07 333.53L401.60 332.51L401.27 331.37L401.07 330.12L401.00 328.75" stroke="#FF0808" stroke-width="2.25"/>
<path d="M421.40 318.20L421.46 316.70L421.65 315.09L421.97 313.38L422.41 311.55L422.98 309.63L423.67 307.60L424.49 305.46L425.43 303.22L426.50 300.87L427.70 298.42L429.02 295.87L430.46 293.22L432.03 290.46L433.73 287.55L435.54 284.16L437.48 280.66L439.55 277.05L441.73 273.33L444.04 269.52L446.47 265.63L449.02 261.65L451.69 257.58L454.48 253.45L457.39 249.25L460.42 244.98L463.57 240.65L466.83 236.26L470.21 231.81L473.71 227.32L477.32 222.86L481.05 219.30L484.89 216.64L488.85 214.32L492.91 211.47L497.09 207.26L501.38 202.72L505.78 198.07L510.29 193.32L514.90 188.46L519.63 183.50L524.45 178.44L529.39 173.28L534.43 168.02L539.57 162.67L544.81 157.21L550.15 151.66L555.59 146.02L561.14 140.28L566.77 126.67L572.51 120.75L578.34 114.75L584.26 108.66L590.28 102.49L596.39 96.23L602.59 89.90L608.88 83.49L615.25 77.00L621.71 78.22L628.26 71.59L634.89 64.89L641.60 58.13L648.40 51.30L655.27 44.41L662.22 37.47L669.25 30.47L676.35 23.41L683.53 16.30L690.77 9.14L698.09 1.95L705.48 -5.23L712.94 -12.39L720.46 -19.51L728.05 -26.61L735.70 -33.69L743.41 -40.78L751.18 -47.92L759.01 -55.13L766.90 -62.39L774.84 -69.68L782.84 -76.98L790.89 -84.31L798.98 -91.66L807.13 -99.02L815.32 -106.41L823.56 -113.80L831.84 -121.21L840.16 -128.63L848.53 -136.07L856.93 -143.51L865.37 -150.96L873.84 -158.42L882.35 -165.88L890.88 -173.35L899.45 -180.82L908.05 -188.29L916.67 -195.76L925.31 -203.23L933.98 -210.70L942.67 -218.16L951.38 -225.62L960.10 -233.07L968.84 -240.52L977.59 -247.96L986.36 -255.38L995.13 -262.80L1003.92 -270.20L1012.71 -277.59L1021.50 -284.96L1030.30 -292.32L1039.10 -299.66L1047.89 -306.97L1056.69 -314.27L1065.48 -321.55L1074.26 -328.81L1083.04 -336.04L1091.80 -343.24L1100.55 -350.42L1109.29 -357.57L1118.02 -364.69L1126.73 -371.78L1135.41 -378.84L1144.08 -385.87L1152.73 -392.86L1161.35 -399.82L1169.94 -406.74L1178.51 -413.63L1187.05 -420.47L1195.55 -427.28L1204.03 -434.04L1212.47 -440.76L1220.87 -447.44L1229.23 -454.07L1237.55 -460.66L1245.84 -467.19L1254.07 -473.68L1262.27 -480.12L1270.41 -486.50L1278.51 -492.83L1286.56 -499.10L1294.55 -505.31L1302.49 -511.46L1310.38 -517.55L1318.21 -523.57L1325.98 -529.53L1333.70 -535.41L1341.35 -541.23L1348.93 -546.98L1356.46 -552.66L1363.91 -558.26L1371.30 -563.79L1378.62 -569.24L1385.87 -574.61L1393.05 -579.90L1400.15 -585.11L1407.18 -590.23L1414.13 -595.28L1421.00 -600.23L1427.79 -605.10L1434.51 -609.89L1441.14 -614.58L1447.68 -619.18L1454.14 -623.70L1460.52 -628.12L1466.81 -632.45L1473.01 -636.68L1479.11 -640.82L1485.13 -644.87L1491.05 -648.81L1496.89 -652.67L1502.62 -656.42L1508.26 -660.08L1513.80 -663.64L1519.24 -667.09L1524.59 -670.45L1529.83 -673.71L1534.97 -676.88L1540.01 -679.93L1544.94 -682.89L1549.77 -685.75L1554.49 -688.51L1559.11 -691.17L1563.62 -693.73L1568.01 -696.18L1572.30 -698.54L1576.48 -700.79L1580.55 -702.95L1584.50 -705.00L1588.35 -706.96L1592.07 -708.82L1595.69 -710.58L1599.18 -712.24L1602.57 -713.80L1605.83 -715.27L1608.98 -716.64L1612.01 -717.92L1614.92 -719.10L1617.71 -720.43L1620.38 -721.68L1622.93 -722.81L1625.36 -723.84L1627.66 -724.76L1629.85 -725.58L1631.91 -726.29L1633.85 -726.89L1635.67 -727.38L1637.36 -727.76L1638.93 -728.04L1640.38 -728.20L1641.70 -728.26L1642.89 -728.21L1643.96 -728.05L1644.91 -727.79L1645.72 -727.41L1646.42 -726.93L1646.99 -726.34L1647.43 -725.65L1647.74 -724.84L1647.93 -723.93L1648.00 -722.91" stroke="#FF0808" stroke-width="2.25"/>
<path d="M1648.00 -722.91L1647.93 -722.49L1647.74 -721.96L1647.43 -721.33L1646.99 -720.59L1646.42 -719.75L1645.72 -718.80L1644.91 -717.74L1643.96 -716.58L1642.89 -715.31L1641.70 -713.93L1640.38 -712.45L1638.93 -710.87L1637.36 -709.18L1635.67 -707.38L1633.85 -705.33L1631.91 -702.03L1629.85 -698.69L1627.66 -695.35L1625.36 -692.01L1622.93 -688.68L1620.38 -685.37L1617.71 -682.07L1614.92 -678.79L1612.01 -675.51L1608.98 -672.21L1605.83 -668.88L1602.57 -665.50L1599.18 -662.03L1595.69 -658.45L1592.07 -654.75L1588.35 -650.95L1584.50 -647.02L1580.55 -642.98L1576.48 -638.83L1572.30 -634.57L1568.01 -630.19L1563.62 -625.70L1559.11 -621.09L1554.49 -616.38L1549.77 -611.56L1544.94 -606.63L1540.01 -601.59L1534.97 -596.46L1529.83 -591.22L1524.59 -585.88L1519.24 -580.44L1513.80 -574.91L1508.26 -569.28L1502.62 -563.57L1496.89 -557.77L1491.05 -551.89L1485.13 -545.93L1479.11 -539.89L1473.01 -533.77L1466.81 -527.59L1460.52 -521.33L1454.14 -515.00L1447.68 -508.61L1441.14 -502.14L1434.51 -495.62L1427.79 -489.03L1421.00 -482.38L1414.13 -475.67L1407.18 -468.90L1400.15 -462.08L1393.05 -455.20L1385.87 -448.27L1378.62 -441.29L1371.30 -434.26L1363.91 -427.19L1356.46 -420.07L1348.93 -412.90L1341.35 -405.70L1333.70 -398.45L1325.98 -391.17L1318.21 -383.85L1310.38 -376.50L1302.49 -369.11L1294.55 -361.70L1286.56 -354.25L1278.51 -346.78L1270.41 -339.29L1262.27 -331.77L1254.07 -324.23L1245.84 -316.67L1237.55 -309.09L1229.23 -301.50L1220.87 -293.89L1212.47 -286.27L1204.03 -278.64L1195.55 -271.00L1187.05 -263.36L1178.51 -255.71L1169.94 -248.05L1161.35 -240.40L1152.73 -232.74L1144.08 -225.09L1135.41 -217.44L1126.73 -209.79L1118.02 -202.16L1109.29 -194.53L1100.55 -186.91L1091.80 -179.31L1083.04 -171.72L1074.26 -164.14L1065.48 -156.59L1056.69 -149.05L1047.89 -141.53L1039.10 -134.03L1030.30 -126.55L1021.50 -119.09L1012.71 -111.66L1003.92 -104.24L995.13 -96.86L986.36 -89.50L977.59 -82.16L968.84 -74.86L960.10 -67.58L951.38 -60.33L942.67 -53.11L933.98 -45.92L925.31 -38.77L916.67 -31.64L908.05 -24.56L899.45 -17.50L890.88 -10.48L882.35 -3.50L873.84 3.45L865.37 10.36L856.93 17.23L848.53 24.06L840.16 30.85L831.84 37.60L823.56 44.30L815.32 50.96L807.13 57.58L798.98 64.15L790.89 70.68L782.84 77.15L774.84 83.58L766.90 89.96L759.01 96.29L751.18 102.57L743.41 108.80L735.70 114.97L728.05 121.09L720.46 127.15L712.94 133.16L705.48 139.10L698.09 144.99L690.77 150.82L683.53 156.58L676.35 162.29L669.25 167.93L662.22 173.50L655.27 179.01L648.40 184.44L641.60 189.81L634.89 195.11L628.26 200.34L621.71 205.49L615.25 210.57L608.88 215.57L602.59 220.48L596.39 225.32L590.28 230.06L584.26 234.72L578.34 239.29L572.51 243.76L566.77 248.14L561.14 252.42L555.59 256.60L550.15 260.67L544.81 264.64L539.57 268.51L534.43 272.27L529.39 275.91L524.45 279.44L519.63 282.86L514.90 286.17L510.29 289.36L505.78 292.43L501.38 295.38L497.09 298.20L492.91 300.91L488.85 303.49L484.89 305.95L481.05 308.29L477.32 310.50L473.71 312.58L470.21 314.53L466.83 316.36L463.57 318.06L460.42 319.63L457.39 321.07L454.48 322.38L451.69 323.57L449.02 324.62L446.47 325.55L444.04 326.34L441.73 327.01L439.55 327.56L437.48 327.97L435.54 328.26L433.73 328.43L432.03 328.47L430.46 328.38L429.02 328.17L427.70 327.81L426.50 327.34L425.43 326.76L424.49 326.07L423.67 325.27L422.98 324.36L422.41 323.34L421.97 322.22L421.65 320.99L421.46 319.65L421.40 318.20" stroke="#FF0808" stroke-width="2.25"/>
</g>
<g stroke="#000" stroke-width="1.1" fill="none">
<path d="M360.00 352.00V356.90"/>
<path d="M436.20 352.00V356.90"/>
<path d="M512.40 352.00V356.90"/>
<path d="M360.00 246.00H355.10"/>
<path d="M360.00 288.40H355.10"/>
<path d="M360.00 330.80H355.10"/>
</g>
<rect x="360.00" y="225.00" width="152.50" height="127.00" fill="none" stroke="#000" stroke-width="1.1"/>
<g font-family="'DejaVu Sans', 'Liberation Sans', sans-serif" font-size="14.00" fill="#000">
<text x="360.00" y="372.90" text-anchor="middle">−1.8</text>
<text x="436.20" y="372.90" text-anchor="middle">−1.6</text>
<text x="512.40" y="372.90" text-anchor="middle">−1.4</text>
<text x="351.60" y="251.20" text-anchor="end">−2.2</text>
<text x="351.60" y="293.60" text-anchor="end">−2.4</text>
<text x="351.60" y="336.00" text-anchor="end">−2.6</text>
</g>
<rect x="76.4" y="13.1" width="123.9" height="66.2" rx="2.8" ry="2.8" fill="#fff" fill-opacity="0.8" stroke="#ccc" stroke-opacity="0.8" stroke-width="1.39"/>
<g font-family="'DejaVu Sans', 'Liberation Sans', sans-serif" font-size="14.00" fill="#000">
<circle cx="96.5" cy="24.40" r="2.6" fill="#0471B8"/>
<text x="122.2" y="29.90">raw signal</text>
<circle cx="96.5" cy="44.85" r="2.6" fill="#FF8103"/>
<text x="122.2" y="50.35">LP Filter</text>
<circle cx="96.5" cy="65.30" r="2.6" fill="#FF0808"/>
<text x="122.2" y="70.80">wavelet</text>
</g>
</svg>
</body>
</html>
